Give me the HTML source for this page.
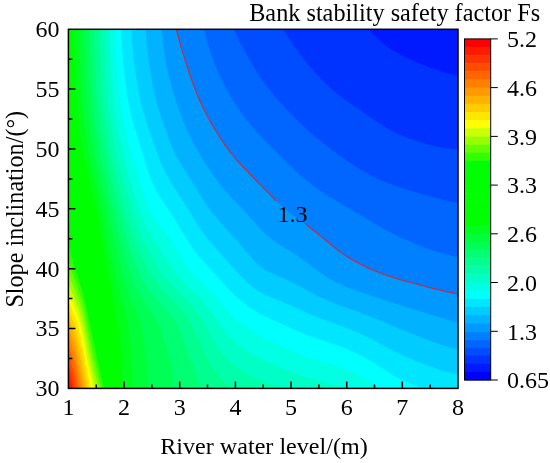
<!DOCTYPE html>
<html lang="en"><head><meta charset="utf-8"><title>Bank stability safety factor Fs</title>
<style>html,body{margin:0;padding:0;background:#fff}body{width:550px;height:463px;overflow:hidden;position:relative}</style>
</head><body>
<svg width="550" height="463" viewBox="0 0 550 463" style="display:block;position:absolute;left:0;top:0">
<rect width="550" height="463" fill="#fff"/>
<g shape-rendering="geometricPrecision">
<path d="M68.4,388.4L71.2,388.4L74.0,388.4L76.7,388.4L79.5,388.4L82.3,388.4L85.1,388.4L87.9,388.4L90.7,388.4L93.4,388.4L96.2,388.4L99.0,388.4L101.8,388.4L104.6,388.4L107.4,388.4L110.1,388.4L112.9,388.4L115.7,388.4L118.5,388.4L121.3,388.4L124.1,388.4L126.8,388.4L129.6,388.4L132.4,388.4L135.2,388.4L138.0,388.4L140.8,388.4L143.5,388.4L146.3,388.4L149.1,388.4L151.9,388.4L154.7,388.4L157.5,388.4L160.2,388.4L163.0,388.4L165.8,388.4L168.6,388.4L171.4,388.4L174.1,388.4L176.9,388.4L179.7,388.4L182.5,388.4L185.3,388.4L188.1,388.4L190.8,388.4L193.6,388.4L196.4,388.4L199.2,388.4L202.0,388.4L204.8,388.4L207.5,388.4L210.3,388.4L213.1,388.4L215.9,388.4L218.7,388.4L221.5,388.4L224.2,388.4L227.0,388.4L229.8,388.4L232.6,388.4L235.4,388.4L238.2,388.4L240.9,388.4L243.7,388.4L246.5,388.4L249.3,388.4L252.1,388.4L254.9,388.4L257.6,388.4L260.4,388.4L263.2,388.4L266.0,388.4L268.8,388.4L271.5,388.4L274.3,388.4L277.1,388.4L279.9,388.4L282.7,388.4L285.5,388.4L288.2,388.4L291.0,388.4L293.8,388.4L296.6,388.4L299.4,388.4L302.2,388.4L304.9,388.4L307.7,388.4L310.5,388.4L313.3,388.4L316.1,388.4L318.9,388.4L321.6,388.4L324.4,388.4L327.2,388.4L330.0,388.4L332.8,388.4L335.6,388.4L338.3,388.4L341.1,388.4L343.9,388.4L346.7,388.4L349.5,388.4L352.3,388.4L355.0,388.4L357.8,388.4L360.6,388.4L363.4,388.4L366.2,388.4L368.9,388.4L371.7,388.4L374.5,388.4L377.3,388.4L380.1,388.4L382.9,388.4L385.6,388.4L388.4,388.4L391.2,388.4L394.0,388.4L396.8,388.4L399.6,388.4L402.3,388.4L405.1,388.4L407.9,388.4L410.7,388.4L413.5,388.4L416.3,388.4L419.0,388.4L421.8,388.4L424.6,388.4L427.4,388.4L430.2,388.4L433.0,388.4L435.7,388.4L438.5,388.4L441.3,388.4L444.1,388.4L446.9,388.4L449.7,388.4L452.4,388.4L455.2,388.4L458.0,388.4L458.0,382.4L458.0,376.4L458.0,370.4L458.0,364.5L458.0,358.5L458.0,352.5L458.0,346.5L458.0,340.5L458.0,334.5L458.0,328.5L458.0,322.6L458.0,316.6L458.0,310.6L458.0,304.6L458.0,298.6L458.0,292.6L458.0,286.7L458.0,280.7L458.0,274.7L458.0,268.7L458.0,262.7L458.0,256.7L458.0,250.7L458.0,244.8L458.0,238.8L458.0,232.8L458.0,226.8L458.0,220.8L458.0,214.8L458.0,208.8L458.0,202.9L458.0,196.9L458.0,190.9L458.0,184.9L458.0,178.9L458.0,172.9L458.0,167.0L458.0,161.0L458.0,155.0L458.0,149.0L458.0,143.0L458.0,137.0L458.0,131.0L458.0,125.1L458.0,119.1L458.0,113.1L458.0,107.1L458.0,101.1L458.0,95.1L458.0,89.1L458.0,83.2L458.0,77.2L458.0,71.2L458.0,65.2L458.0,59.2L458.0,53.2L458.0,47.3L458.0,41.3L458.0,35.3L458.0,29.3L455.2,29.3L452.4,29.3L449.7,29.3L446.9,29.3L444.1,29.3L441.3,29.3L438.5,29.3L435.7,29.3L433.0,29.3L430.2,29.3L427.4,29.3L424.6,29.3L421.8,29.3L419.0,29.3L416.3,29.3L413.5,29.3L410.7,29.3L407.9,29.3L405.1,29.3L402.3,29.3L399.6,29.3L396.8,29.3L394.0,29.3L391.2,29.3L388.4,29.3L385.6,29.3L382.9,29.3L380.1,29.3L377.3,29.3L374.5,29.3L371.7,29.3L368.9,29.3L366.2,29.3L363.4,29.3L360.6,29.3L357.8,29.3L355.0,29.3L352.3,29.3L349.5,29.3L346.7,29.3L343.9,29.3L341.1,29.3L338.3,29.3L335.6,29.3L332.8,29.3L330.0,29.3L327.2,29.3L324.4,29.3L321.6,29.3L318.9,29.3L316.1,29.3L313.3,29.3L310.5,29.3L307.7,29.3L304.9,29.3L302.2,29.3L299.4,29.3L296.6,29.3L293.8,29.3L291.0,29.3L288.2,29.3L285.5,29.3L282.7,29.3L279.9,29.3L277.1,29.3L274.3,29.3L271.5,29.3L268.8,29.3L266.0,29.3L263.2,29.3L260.4,29.3L257.6,29.3L254.9,29.3L252.1,29.3L249.3,29.3L246.5,29.3L243.7,29.3L240.9,29.3L238.2,29.3L235.4,29.3L232.6,29.3L229.8,29.3L227.0,29.3L224.2,29.3L221.5,29.3L218.7,29.3L215.9,29.3L213.1,29.3L210.3,29.3L207.5,29.3L204.8,29.3L202.0,29.3L199.2,29.3L196.4,29.3L193.6,29.3L190.8,29.3L188.1,29.3L185.3,29.3L182.5,29.3L179.7,29.3L176.9,29.3L174.1,29.3L171.4,29.3L168.6,29.3L165.8,29.3L163.0,29.3L160.2,29.3L157.5,29.3L154.7,29.3L151.9,29.3L149.1,29.3L146.3,29.3L143.5,29.3L140.8,29.3L138.0,29.3L135.2,29.3L132.4,29.3L129.6,29.3L126.8,29.3L124.1,29.3L121.3,29.3L118.5,29.3L115.7,29.3L112.9,29.3L110.1,29.3L107.4,29.3L104.6,29.3L101.8,29.3L99.0,29.3L96.2,29.3L93.4,29.3L90.7,29.3L87.9,29.3L85.1,29.3L82.3,29.3L79.5,29.3L76.7,29.3L74.0,29.3L71.2,29.3L68.4,29.3L68.4,35.3L68.4,41.3L68.4,47.3L68.4,53.2L68.4,59.2L68.4,65.2L68.4,71.2L68.4,77.2L68.4,83.2L68.4,89.1L68.4,95.1L68.4,101.1L68.4,107.1L68.4,113.1L68.4,119.1L68.4,125.1L68.4,131.0L68.4,137.0L68.4,143.0L68.4,149.0L68.4,155.0L68.4,161.0L68.4,167.0L68.4,172.9L68.4,178.9L68.4,184.9L68.4,190.9L68.4,196.9L68.4,202.9L68.4,208.8L68.4,214.8L68.4,220.8L68.4,226.8L68.4,232.8L68.4,238.8L68.4,244.8L68.4,250.7L68.4,256.7L68.4,262.7L68.4,268.7L68.4,274.7L68.4,280.7L68.4,286.7L68.4,292.6L68.4,298.6L68.4,304.6L68.4,310.6L68.4,316.6L68.4,322.6L68.4,328.5L68.4,334.5L68.4,340.5L68.4,346.5L68.4,352.5L68.4,358.5L68.4,364.5L68.4,370.4L68.4,376.4L68.4,382.4Z" fill="#0000ff"/>
<path d="M68.4,388.4L71.2,388.4L74.0,388.4L76.7,388.4L79.5,388.4L82.3,388.4L85.1,388.4L87.9,388.4L90.7,388.4L93.4,388.4L96.2,388.4L99.0,388.4L101.8,388.4L104.6,388.4L107.4,388.4L110.1,388.4L112.9,388.4L115.7,388.4L118.5,388.4L121.3,388.4L124.1,388.4L126.8,388.4L129.6,388.4L132.4,388.4L135.2,388.4L138.0,388.4L140.8,388.4L143.5,388.4L146.3,388.4L149.1,388.4L151.9,388.4L154.7,388.4L157.5,388.4L160.2,388.4L163.0,388.4L165.8,388.4L168.6,388.4L171.4,388.4L174.1,388.4L176.9,388.4L179.7,388.4L182.5,388.4L185.3,388.4L188.1,388.4L190.8,388.4L193.6,388.4L196.4,388.4L199.2,388.4L202.0,388.4L204.8,388.4L207.5,388.4L210.3,388.4L213.1,388.4L215.9,388.4L218.7,388.4L221.5,388.4L224.2,388.4L227.0,388.4L229.8,388.4L232.6,388.4L235.4,388.4L238.2,388.4L240.9,388.4L243.7,388.4L246.5,388.4L249.3,388.4L252.1,388.4L254.9,388.4L257.6,388.4L260.4,388.4L263.2,388.4L266.0,388.4L268.8,388.4L271.5,388.4L274.3,388.4L277.1,388.4L279.9,388.4L282.7,388.4L285.5,388.4L288.2,388.4L291.0,388.4L293.8,388.4L296.6,388.4L299.4,388.4L302.2,388.4L304.9,388.4L307.7,388.4L310.5,388.4L313.3,388.4L316.1,388.4L318.9,388.4L321.6,388.4L324.4,388.4L327.2,388.4L330.0,388.4L332.8,388.4L335.6,388.4L338.3,388.4L341.1,388.4L343.9,388.4L346.7,388.4L349.5,388.4L352.3,388.4L355.0,388.4L357.8,388.4L360.6,388.4L363.4,388.4L366.2,388.4L368.9,388.4L371.7,388.4L374.5,388.4L377.3,388.4L380.1,388.4L382.9,388.4L385.6,388.4L388.4,388.4L391.2,388.4L394.0,388.4L396.8,388.4L399.6,388.4L402.3,388.4L405.1,388.4L407.9,388.4L410.7,388.4L413.5,388.4L416.3,388.4L419.0,388.4L421.8,388.4L424.6,388.4L427.4,388.4L430.2,388.4L433.0,388.4L435.7,388.4L438.5,388.4L441.3,388.4L444.1,388.4L446.9,388.4L449.7,388.4L452.4,388.4L455.2,388.4L458.0,388.4L458.0,382.4L458.0,376.4L458.0,370.4L458.0,364.5L458.0,358.5L458.0,352.5L458.0,346.5L458.0,340.5L458.0,334.5L458.0,328.5L458.0,322.6L458.0,316.6L458.0,310.6L458.0,304.6L458.0,298.6L458.0,292.6L458.0,286.7L458.0,280.7L458.0,274.7L458.0,268.7L458.0,262.7L458.0,256.7L458.0,250.7L458.0,244.8L458.0,238.8L458.0,232.8L458.0,226.8L458.0,220.8L458.0,214.8L458.0,208.8L458.0,202.9L458.0,196.9L458.0,190.9L458.0,184.9L458.0,178.9L458.0,172.9L458.0,167.0L458.0,161.0L458.0,155.0L458.0,149.0L458.0,143.0L458.0,137.0L458.0,131.0L458.0,125.1L458.0,119.1L458.0,113.1L458.0,107.1L458.0,101.1L458.0,95.1L458.0,89.1L458.0,83.2L458.0,77.2L458.0,71.2L458.0,65.2L458.0,59.2L458.0,53.2L458.0,47.3L458.0,41.3L458.0,35.3L458.0,29.3L455.2,29.3L452.4,29.3L449.7,29.3L446.9,29.3L444.1,29.3L441.3,29.3L438.5,29.3L435.7,29.3L433.0,29.3L430.2,29.3L427.4,29.3L424.6,29.3L421.8,29.3L419.0,29.3L416.3,29.3L413.5,29.3L410.7,29.3L407.9,29.3L405.1,29.3L402.3,29.3L399.6,29.3L396.8,29.3L394.0,29.3L391.2,29.3L388.4,29.3L385.6,29.3L382.9,29.3L380.1,29.3L377.3,29.3L374.5,29.3L371.7,29.3L368.9,29.3L366.2,29.3L363.4,29.3L360.6,29.3L357.8,29.3L355.0,29.3L352.3,29.3L349.5,29.3L346.7,29.3L343.9,29.3L341.1,29.3L338.3,29.3L335.6,29.3L332.8,29.3L330.0,29.3L327.2,29.3L324.4,29.3L321.6,29.3L318.9,29.3L316.1,29.3L313.3,29.3L310.5,29.3L307.7,29.3L304.9,29.3L302.2,29.3L299.4,29.3L296.6,29.3L293.8,29.3L291.0,29.3L288.2,29.3L285.5,29.3L282.7,29.3L279.9,29.3L277.1,29.3L274.3,29.3L271.5,29.3L268.8,29.3L266.0,29.3L263.2,29.3L260.4,29.3L257.6,29.3L254.9,29.3L252.1,29.3L249.3,29.3L246.5,29.3L243.7,29.3L240.9,29.3L238.2,29.3L235.4,29.3L232.6,29.3L229.8,29.3L227.0,29.3L224.2,29.3L221.5,29.3L218.7,29.3L215.9,29.3L213.1,29.3L210.3,29.3L207.5,29.3L204.8,29.3L202.0,29.3L199.2,29.3L196.4,29.3L193.6,29.3L190.8,29.3L188.1,29.3L185.3,29.3L182.5,29.3L179.7,29.3L176.9,29.3L174.1,29.3L171.4,29.3L168.6,29.3L165.8,29.3L163.0,29.3L160.2,29.3L157.5,29.3L154.7,29.3L151.9,29.3L149.1,29.3L146.3,29.3L143.5,29.3L140.8,29.3L138.0,29.3L135.2,29.3L132.4,29.3L129.6,29.3L126.8,29.3L124.1,29.3L121.3,29.3L118.5,29.3L115.7,29.3L112.9,29.3L110.1,29.3L107.4,29.3L104.6,29.3L101.8,29.3L99.0,29.3L96.2,29.3L93.4,29.3L90.7,29.3L87.9,29.3L85.1,29.3L82.3,29.3L79.5,29.3L76.7,29.3L74.0,29.3L71.2,29.3L68.4,29.3L68.4,35.3L68.4,41.3L68.4,47.3L68.4,53.2L68.4,59.2L68.4,65.2L68.4,71.2L68.4,77.2L68.4,83.2L68.4,89.1L68.4,95.1L68.4,101.1L68.4,107.1L68.4,113.1L68.4,119.1L68.4,125.1L68.4,131.0L68.4,137.0L68.4,143.0L68.4,149.0L68.4,155.0L68.4,161.0L68.4,167.0L68.4,172.9L68.4,178.9L68.4,184.9L68.4,190.9L68.4,196.9L68.4,202.9L68.4,208.8L68.4,214.8L68.4,220.8L68.4,226.8L68.4,232.8L68.4,238.8L68.4,244.8L68.4,250.7L68.4,256.7L68.4,262.7L68.4,268.7L68.4,274.7L68.4,280.7L68.4,286.7L68.4,292.6L68.4,298.6L68.4,304.6L68.4,310.6L68.4,316.6L68.4,322.6L68.4,328.5L68.4,334.5L68.4,340.5L68.4,346.5L68.4,352.5L68.4,358.5L68.4,364.5L68.4,370.4L68.4,376.4L68.4,382.4Z" fill="#001aff"/>
<path d="M68.4,388.4L71.2,388.4L74.0,388.4L76.7,388.4L79.5,388.4L82.3,388.4L85.1,388.4L87.9,388.4L90.7,388.4L93.4,388.4L96.2,388.4L99.0,388.4L101.8,388.4L104.6,388.4L107.4,388.4L110.1,388.4L112.9,388.4L115.7,388.4L118.5,388.4L121.3,388.4L124.1,388.4L126.8,388.4L129.6,388.4L132.4,388.4L135.2,388.4L138.0,388.4L140.8,388.4L143.5,388.4L146.3,388.4L149.1,388.4L151.9,388.4L154.7,388.4L157.5,388.4L160.2,388.4L163.0,388.4L165.8,388.4L168.6,388.4L171.4,388.4L174.1,388.4L176.9,388.4L179.7,388.4L182.5,388.4L185.3,388.4L188.1,388.4L190.8,388.4L193.6,388.4L196.4,388.4L199.2,388.4L202.0,388.4L204.8,388.4L207.5,388.4L210.3,388.4L213.1,388.4L215.9,388.4L218.7,388.4L221.5,388.4L224.2,388.4L227.0,388.4L229.8,388.4L232.6,388.4L235.4,388.4L238.2,388.4L240.9,388.4L243.7,388.4L246.5,388.4L249.3,388.4L252.1,388.4L254.9,388.4L257.6,388.4L260.4,388.4L263.2,388.4L266.0,388.4L268.8,388.4L271.5,388.4L274.3,388.4L277.1,388.4L279.9,388.4L282.7,388.4L285.5,388.4L288.2,388.4L291.0,388.4L293.8,388.4L296.6,388.4L299.4,388.4L302.2,388.4L304.9,388.4L307.7,388.4L310.5,388.4L313.3,388.4L316.1,388.4L318.9,388.4L321.6,388.4L324.4,388.4L327.2,388.4L330.0,388.4L332.8,388.4L335.6,388.4L338.3,388.4L341.1,388.4L343.9,388.4L346.7,388.4L349.5,388.4L352.3,388.4L355.0,388.4L357.8,388.4L360.6,388.4L363.4,388.4L366.2,388.4L368.9,388.4L371.7,388.4L374.5,388.4L377.3,388.4L380.1,388.4L382.9,388.4L385.6,388.4L388.4,388.4L391.2,388.4L394.0,388.4L396.8,388.4L399.6,388.4L402.3,388.4L405.1,388.4L407.9,388.4L410.7,388.4L413.5,388.4L416.3,388.4L419.0,388.4L421.8,388.4L424.6,388.4L427.4,388.4L430.2,388.4L433.0,388.4L435.7,388.4L438.5,388.4L441.3,388.4L444.1,388.4L446.9,388.4L449.7,388.4L452.4,388.4L455.2,388.4L458.0,388.4L458.0,382.4L458.0,376.4L458.0,370.4L458.0,364.5L458.0,358.5L458.0,352.5L458.0,346.5L458.0,340.5L458.0,334.5L458.0,328.5L458.0,322.6L458.0,316.6L458.0,310.6L458.0,304.6L458.0,298.6L458.0,292.6L458.0,286.7L458.0,280.7L458.0,274.7L458.0,268.7L458.0,262.7L458.0,256.7L458.0,250.7L458.0,244.8L458.0,238.8L458.0,232.8L458.0,226.8L458.0,220.8L458.0,214.8L458.0,208.8L458.0,202.9L458.0,196.9L458.0,190.9L458.0,184.9L458.0,178.9L458.0,172.9L458.0,167.0L458.0,161.0L458.0,155.0L458.0,149.0L458.0,143.0L458.0,137.0L458.0,131.0L458.0,125.1L458.0,119.1L458.0,113.1L458.0,107.1L458.0,101.1L458.0,95.1L458.0,89.1L458.0,83.2L458.0,77.2L458.0,75.9L455.2,75.2L452.4,74.6L449.7,73.8L446.9,73.1L444.1,72.3L441.3,71.4L440.6,71.2L438.5,70.5L435.7,69.6L433.0,68.7L430.2,67.7L427.4,66.6L424.6,65.6L423.7,65.2L421.8,64.5L419.0,63.3L416.3,62.1L413.5,60.9L410.7,59.7L409.7,59.2L407.9,58.4L405.1,57.1L402.3,55.7L399.6,54.3L397.6,53.2L396.8,52.8L394.0,51.2L391.2,49.4L388.4,47.5L388.1,47.3L385.6,45.4L382.9,43.2L380.6,41.3L380.1,40.8L377.3,38.3L374.5,35.6L374.2,35.3L371.7,32.7L368.9,29.6L368.7,29.3L366.2,29.3L363.4,29.3L360.6,29.3L357.8,29.3L355.0,29.3L352.3,29.3L349.5,29.3L346.7,29.3L343.9,29.3L341.1,29.3L338.3,29.3L335.6,29.3L332.8,29.3L330.0,29.3L327.2,29.3L324.4,29.3L321.6,29.3L318.9,29.3L316.1,29.3L313.3,29.3L310.5,29.3L307.7,29.3L304.9,29.3L302.2,29.3L299.4,29.3L296.6,29.3L293.8,29.3L291.0,29.3L288.2,29.3L285.5,29.3L282.7,29.3L279.9,29.3L277.1,29.3L274.3,29.3L271.5,29.3L268.8,29.3L266.0,29.3L263.2,29.3L260.4,29.3L257.6,29.3L254.9,29.3L252.1,29.3L249.3,29.3L246.5,29.3L243.7,29.3L240.9,29.3L238.2,29.3L235.4,29.3L232.6,29.3L229.8,29.3L227.0,29.3L224.2,29.3L221.5,29.3L218.7,29.3L215.9,29.3L213.1,29.3L210.3,29.3L207.5,29.3L204.8,29.3L202.0,29.3L199.2,29.3L196.4,29.3L193.6,29.3L190.8,29.3L188.1,29.3L185.3,29.3L182.5,29.3L179.7,29.3L176.9,29.3L174.1,29.3L171.4,29.3L168.6,29.3L165.8,29.3L163.0,29.3L160.2,29.3L157.5,29.3L154.7,29.3L151.9,29.3L149.1,29.3L146.3,29.3L143.5,29.3L140.8,29.3L138.0,29.3L135.2,29.3L132.4,29.3L129.6,29.3L126.8,29.3L124.1,29.3L121.3,29.3L118.5,29.3L115.7,29.3L112.9,29.3L110.1,29.3L107.4,29.3L104.6,29.3L101.8,29.3L99.0,29.3L96.2,29.3L93.4,29.3L90.7,29.3L87.9,29.3L85.1,29.3L82.3,29.3L79.5,29.3L76.7,29.3L74.0,29.3L71.2,29.3L68.4,29.3L68.4,35.3L68.4,41.3L68.4,47.3L68.4,53.2L68.4,59.2L68.4,65.2L68.4,71.2L68.4,77.2L68.4,83.2L68.4,89.1L68.4,95.1L68.4,101.1L68.4,107.1L68.4,113.1L68.4,119.1L68.4,125.1L68.4,131.0L68.4,137.0L68.4,143.0L68.4,149.0L68.4,155.0L68.4,161.0L68.4,167.0L68.4,172.9L68.4,178.9L68.4,184.9L68.4,190.9L68.4,196.9L68.4,202.9L68.4,208.8L68.4,214.8L68.4,220.8L68.4,226.8L68.4,232.8L68.4,238.8L68.4,244.8L68.4,250.7L68.4,256.7L68.4,262.7L68.4,268.7L68.4,274.7L68.4,280.7L68.4,286.7L68.4,292.6L68.4,298.6L68.4,304.6L68.4,310.6L68.4,316.6L68.4,322.6L68.4,328.5L68.4,334.5L68.4,340.5L68.4,346.5L68.4,352.5L68.4,358.5L68.4,364.5L68.4,370.4L68.4,376.4L68.4,382.4Z" fill="#0033ff"/>
<path d="M68.4,388.4L71.2,388.4L74.0,388.4L76.7,388.4L79.5,388.4L82.3,388.4L85.1,388.4L87.9,388.4L90.7,388.4L93.4,388.4L96.2,388.4L99.0,388.4L101.8,388.4L104.6,388.4L107.4,388.4L110.1,388.4L112.9,388.4L115.7,388.4L118.5,388.4L121.3,388.4L124.1,388.4L126.8,388.4L129.6,388.4L132.4,388.4L135.2,388.4L138.0,388.4L140.8,388.4L143.5,388.4L146.3,388.4L149.1,388.4L151.9,388.4L154.7,388.4L157.5,388.4L160.2,388.4L163.0,388.4L165.8,388.4L168.6,388.4L171.4,388.4L174.1,388.4L176.9,388.4L179.7,388.4L182.5,388.4L185.3,388.4L188.1,388.4L190.8,388.4L193.6,388.4L196.4,388.4L199.2,388.4L202.0,388.4L204.8,388.4L207.5,388.4L210.3,388.4L213.1,388.4L215.9,388.4L218.7,388.4L221.5,388.4L224.2,388.4L227.0,388.4L229.8,388.4L232.6,388.4L235.4,388.4L238.2,388.4L240.9,388.4L243.7,388.4L246.5,388.4L249.3,388.4L252.1,388.4L254.9,388.4L257.6,388.4L260.4,388.4L263.2,388.4L266.0,388.4L268.8,388.4L271.5,388.4L274.3,388.4L277.1,388.4L279.9,388.4L282.7,388.4L285.5,388.4L288.2,388.4L291.0,388.4L293.8,388.4L296.6,388.4L299.4,388.4L302.2,388.4L304.9,388.4L307.7,388.4L310.5,388.4L313.3,388.4L316.1,388.4L318.9,388.4L321.6,388.4L324.4,388.4L327.2,388.4L330.0,388.4L332.8,388.4L335.6,388.4L338.3,388.4L341.1,388.4L343.9,388.4L346.7,388.4L349.5,388.4L352.3,388.4L355.0,388.4L357.8,388.4L360.6,388.4L363.4,388.4L366.2,388.4L368.9,388.4L371.7,388.4L374.5,388.4L377.3,388.4L380.1,388.4L382.9,388.4L385.6,388.4L388.4,388.4L391.2,388.4L394.0,388.4L396.8,388.4L399.6,388.4L402.3,388.4L405.1,388.4L407.9,388.4L410.7,388.4L413.5,388.4L416.3,388.4L419.0,388.4L421.8,388.4L424.6,388.4L427.4,388.4L430.2,388.4L433.0,388.4L435.7,388.4L438.5,388.4L441.3,388.4L444.1,388.4L446.9,388.4L449.7,388.4L452.4,388.4L455.2,388.4L458.0,388.4L458.0,382.4L458.0,376.4L458.0,370.4L458.0,364.5L458.0,358.5L458.0,352.5L458.0,346.5L458.0,340.5L458.0,334.5L458.0,328.5L458.0,322.6L458.0,316.6L458.0,310.6L458.0,304.6L458.0,298.6L458.0,292.6L458.0,286.7L458.0,280.7L458.0,274.7L458.0,268.7L458.0,262.7L458.0,256.7L458.0,250.7L458.0,244.8L458.0,238.8L458.0,232.8L458.0,226.8L458.0,220.8L458.0,214.8L458.0,208.8L458.0,202.9L458.0,196.9L458.0,190.9L458.0,184.9L458.0,178.9L458.0,172.9L458.0,167.0L458.0,161.0L458.0,155.0L458.0,149.0L458.0,149.0L455.2,148.9L452.4,148.8L449.7,148.6L446.9,148.3L444.1,147.9L441.3,147.4L438.5,146.9L435.7,146.3L433.0,145.7L430.2,145.0L427.4,144.2L424.6,143.5L423.0,143.0L421.8,142.6L419.0,141.7L416.3,140.8L413.5,139.8L410.7,138.9L407.9,137.9L405.5,137.0L405.1,136.9L402.3,135.8L399.6,134.7L396.8,133.4L394.0,132.0L392.1,131.0L391.2,130.5L388.4,128.9L385.6,127.3L382.9,125.6L382.1,125.1L380.1,123.8L377.3,121.9L374.5,120.1L373.0,119.1L371.7,118.2L368.9,116.3L366.2,114.4L364.3,113.1L363.4,112.5L360.6,110.5L357.8,108.6L355.7,107.1L355.0,106.7L352.3,104.7L349.5,102.7L347.2,101.1L346.7,100.8L343.9,98.7L341.1,96.7L339.1,95.1L338.3,94.6L335.6,92.3L332.8,90.1L331.7,89.1L330.0,87.7L327.2,85.1L325.1,83.2L324.4,82.5L321.6,79.6L319.3,77.2L318.9,76.7L316.1,73.7L313.9,71.2L313.3,70.5L310.5,67.2L308.8,65.2L307.7,63.9L304.9,60.4L304.0,59.2L302.2,56.8L299.5,53.2L299.4,53.1L296.6,49.3L295.1,47.3L293.8,45.4L291.0,41.4L290.9,41.3L288.2,37.2L287.0,35.3L285.5,32.9L283.1,29.3L282.7,29.3L279.9,29.3L277.1,29.3L274.3,29.3L271.5,29.3L268.8,29.3L266.0,29.3L263.2,29.3L260.4,29.3L257.6,29.3L254.9,29.3L252.1,29.3L249.3,29.3L246.5,29.3L243.7,29.3L240.9,29.3L238.2,29.3L235.4,29.3L232.6,29.3L229.8,29.3L227.0,29.3L224.2,29.3L221.5,29.3L218.7,29.3L215.9,29.3L213.1,29.3L210.3,29.3L207.5,29.3L204.8,29.3L202.0,29.3L199.2,29.3L196.4,29.3L193.6,29.3L190.8,29.3L188.1,29.3L185.3,29.3L182.5,29.3L179.7,29.3L176.9,29.3L174.1,29.3L171.4,29.3L168.6,29.3L165.8,29.3L163.0,29.3L160.2,29.3L157.5,29.3L154.7,29.3L151.9,29.3L149.1,29.3L146.3,29.3L143.5,29.3L140.8,29.3L138.0,29.3L135.2,29.3L132.4,29.3L129.6,29.3L126.8,29.3L124.1,29.3L121.3,29.3L118.5,29.3L115.7,29.3L112.9,29.3L110.1,29.3L107.4,29.3L104.6,29.3L101.8,29.3L99.0,29.3L96.2,29.3L93.4,29.3L90.7,29.3L87.9,29.3L85.1,29.3L82.3,29.3L79.5,29.3L76.7,29.3L74.0,29.3L71.2,29.3L68.4,29.3L68.4,35.3L68.4,41.3L68.4,47.3L68.4,53.2L68.4,59.2L68.4,65.2L68.4,71.2L68.4,77.2L68.4,83.2L68.4,89.1L68.4,95.1L68.4,101.1L68.4,107.1L68.4,113.1L68.4,119.1L68.4,125.1L68.4,131.0L68.4,137.0L68.4,143.0L68.4,149.0L68.4,155.0L68.4,161.0L68.4,167.0L68.4,172.9L68.4,178.9L68.4,184.9L68.4,190.9L68.4,196.9L68.4,202.9L68.4,208.8L68.4,214.8L68.4,220.8L68.4,226.8L68.4,232.8L68.4,238.8L68.4,244.8L68.4,250.7L68.4,256.7L68.4,262.7L68.4,268.7L68.4,274.7L68.4,280.7L68.4,286.7L68.4,292.6L68.4,298.6L68.4,304.6L68.4,310.6L68.4,316.6L68.4,322.6L68.4,328.5L68.4,334.5L68.4,340.5L68.4,346.5L68.4,352.5L68.4,358.5L68.4,364.5L68.4,370.4L68.4,376.4L68.4,382.4Z" fill="#004cff"/>
<path d="M68.4,388.4L71.2,388.4L74.0,388.4L76.7,388.4L79.5,388.4L82.3,388.4L85.1,388.4L87.9,388.4L90.7,388.4L93.4,388.4L96.2,388.4L99.0,388.4L101.8,388.4L104.6,388.4L107.4,388.4L110.1,388.4L112.9,388.4L115.7,388.4L118.5,388.4L121.3,388.4L124.1,388.4L126.8,388.4L129.6,388.4L132.4,388.4L135.2,388.4L138.0,388.4L140.8,388.4L143.5,388.4L146.3,388.4L149.1,388.4L151.9,388.4L154.7,388.4L157.5,388.4L160.2,388.4L163.0,388.4L165.8,388.4L168.6,388.4L171.4,388.4L174.1,388.4L176.9,388.4L179.7,388.4L182.5,388.4L185.3,388.4L188.1,388.4L190.8,388.4L193.6,388.4L196.4,388.4L199.2,388.4L202.0,388.4L204.8,388.4L207.5,388.4L210.3,388.4L213.1,388.4L215.9,388.4L218.7,388.4L221.5,388.4L224.2,388.4L227.0,388.4L229.8,388.4L232.6,388.4L235.4,388.4L238.2,388.4L240.9,388.4L243.7,388.4L246.5,388.4L249.3,388.4L252.1,388.4L254.9,388.4L257.6,388.4L260.4,388.4L263.2,388.4L266.0,388.4L268.8,388.4L271.5,388.4L274.3,388.4L277.1,388.4L279.9,388.4L282.7,388.4L285.5,388.4L288.2,388.4L291.0,388.4L293.8,388.4L296.6,388.4L299.4,388.4L302.2,388.4L304.9,388.4L307.7,388.4L310.5,388.4L313.3,388.4L316.1,388.4L318.9,388.4L321.6,388.4L324.4,388.4L327.2,388.4L330.0,388.4L332.8,388.4L335.6,388.4L338.3,388.4L341.1,388.4L343.9,388.4L346.7,388.4L349.5,388.4L352.3,388.4L355.0,388.4L357.8,388.4L360.6,388.4L363.4,388.4L366.2,388.4L368.9,388.4L371.7,388.4L374.5,388.4L377.3,388.4L380.1,388.4L382.9,388.4L385.6,388.4L388.4,388.4L391.2,388.4L394.0,388.4L396.8,388.4L399.6,388.4L402.3,388.4L405.1,388.4L407.9,388.4L410.7,388.4L413.5,388.4L416.3,388.4L419.0,388.4L421.8,388.4L424.6,388.4L427.4,388.4L430.2,388.4L433.0,388.4L435.7,388.4L438.5,388.4L441.3,388.4L444.1,388.4L446.9,388.4L449.7,388.4L452.4,388.4L455.2,388.4L458.0,388.4L458.0,382.4L458.0,376.4L458.0,370.4L458.0,364.5L458.0,358.5L458.0,352.5L458.0,346.5L458.0,340.5L458.0,334.5L458.0,328.5L458.0,322.6L458.0,316.6L458.0,310.6L458.0,304.6L458.0,298.6L458.0,292.6L458.0,286.7L458.0,280.7L458.0,274.7L458.0,268.7L458.0,262.7L458.0,256.7L458.0,250.7L458.0,244.8L458.0,238.8L458.0,232.8L458.0,226.8L458.0,220.8L458.0,214.8L458.0,208.8L458.0,203.2L456.4,202.9L455.2,202.6L452.4,202.0L449.7,201.4L446.9,200.7L444.1,200.0L441.3,199.3L438.5,198.6L435.7,197.8L433.0,197.1L432.3,196.9L430.2,196.3L427.4,195.5L424.6,194.7L421.8,193.9L419.0,193.1L416.3,192.3L413.5,191.4L411.8,190.9L410.7,190.6L407.9,189.7L405.1,188.9L402.3,188.0L399.6,187.2L396.8,186.3L394.0,185.3L392.9,184.9L391.2,184.3L388.4,183.2L385.6,182.1L382.9,180.9L380.1,179.7L378.3,178.9L377.3,178.4L374.5,177.1L371.7,175.7L368.9,174.3L366.5,172.9L366.2,172.8L363.4,171.2L360.6,169.5L357.8,167.8L356.4,167.0L355.0,166.1L352.3,164.3L349.5,162.4L347.3,161.0L346.7,160.5L343.9,158.5L341.1,156.5L338.9,155.0L338.3,154.5L335.6,152.5L332.8,150.4L330.9,149.0L330.0,148.3L327.2,146.2L324.4,144.0L323.2,143.0L321.6,141.8L318.9,139.5L316.1,137.2L315.8,137.0L313.3,134.9L310.5,132.4L308.9,131.0L307.7,130.0L304.9,127.5L302.3,125.1L302.2,124.9L299.4,122.3L296.6,119.6L296.1,119.1L293.8,116.8L291.0,114.0L290.1,113.1L288.2,111.1L285.5,108.2L284.5,107.1L282.7,105.1L279.9,102.0L279.1,101.1L277.1,98.8L274.3,95.6L274.0,95.1L271.5,92.1L269.2,89.1L268.8,88.6L266.0,85.0L264.7,83.2L263.2,81.1L260.4,77.2L260.4,77.2L257.6,73.0L256.4,71.2L254.9,68.7L252.7,65.2L252.1,64.2L249.3,59.5L249.1,59.2L246.5,54.6L245.8,53.2L243.7,49.4L242.6,47.3L240.9,44.1L239.5,41.3L238.2,38.4L236.7,35.3L235.4,32.5L233.9,29.3L232.6,29.3L229.8,29.3L227.0,29.3L224.2,29.3L221.5,29.3L218.7,29.3L215.9,29.3L213.1,29.3L210.3,29.3L207.5,29.3L204.8,29.3L202.0,29.3L199.2,29.3L196.4,29.3L193.6,29.3L190.8,29.3L188.1,29.3L185.3,29.3L182.5,29.3L179.7,29.3L176.9,29.3L174.1,29.3L171.4,29.3L168.6,29.3L165.8,29.3L163.0,29.3L160.2,29.3L157.5,29.3L154.7,29.3L151.9,29.3L149.1,29.3L146.3,29.3L143.5,29.3L140.8,29.3L138.0,29.3L135.2,29.3L132.4,29.3L129.6,29.3L126.8,29.3L124.1,29.3L121.3,29.3L118.5,29.3L115.7,29.3L112.9,29.3L110.1,29.3L107.4,29.3L104.6,29.3L101.8,29.3L99.0,29.3L96.2,29.3L93.4,29.3L90.7,29.3L87.9,29.3L85.1,29.3L82.3,29.3L79.5,29.3L76.7,29.3L74.0,29.3L71.2,29.3L68.4,29.3L68.4,35.3L68.4,41.3L68.4,47.3L68.4,53.2L68.4,59.2L68.4,65.2L68.4,71.2L68.4,77.2L68.4,83.2L68.4,89.1L68.4,95.1L68.4,101.1L68.4,107.1L68.4,113.1L68.4,119.1L68.4,125.1L68.4,131.0L68.4,137.0L68.4,143.0L68.4,149.0L68.4,155.0L68.4,161.0L68.4,167.0L68.4,172.9L68.4,178.9L68.4,184.9L68.4,190.9L68.4,196.9L68.4,202.9L68.4,208.8L68.4,214.8L68.4,220.8L68.4,226.8L68.4,232.8L68.4,238.8L68.4,244.8L68.4,250.7L68.4,256.7L68.4,262.7L68.4,268.7L68.4,274.7L68.4,280.7L68.4,286.7L68.4,292.6L68.4,298.6L68.4,304.6L68.4,310.6L68.4,316.6L68.4,322.6L68.4,328.5L68.4,334.5L68.4,340.5L68.4,346.5L68.4,352.5L68.4,358.5L68.4,364.5L68.4,370.4L68.4,376.4L68.4,382.4Z" fill="#0066ff"/>
<path d="M68.4,388.4L71.2,388.4L74.0,388.4L76.7,388.4L79.5,388.4L82.3,388.4L85.1,388.4L87.9,388.4L90.7,388.4L93.4,388.4L96.2,388.4L99.0,388.4L101.8,388.4L104.6,388.4L107.4,388.4L110.1,388.4L112.9,388.4L115.7,388.4L118.5,388.4L121.3,388.4L124.1,388.4L126.8,388.4L129.6,388.4L132.4,388.4L135.2,388.4L138.0,388.4L140.8,388.4L143.5,388.4L146.3,388.4L149.1,388.4L151.9,388.4L154.7,388.4L157.5,388.4L160.2,388.4L163.0,388.4L165.8,388.4L168.6,388.4L171.4,388.4L174.1,388.4L176.9,388.4L179.7,388.4L182.5,388.4L185.3,388.4L188.1,388.4L190.8,388.4L193.6,388.4L196.4,388.4L199.2,388.4L202.0,388.4L204.8,388.4L207.5,388.4L210.3,388.4L213.1,388.4L215.9,388.4L218.7,388.4L221.5,388.4L224.2,388.4L227.0,388.4L229.8,388.4L232.6,388.4L235.4,388.4L238.2,388.4L240.9,388.4L243.7,388.4L246.5,388.4L249.3,388.4L252.1,388.4L254.9,388.4L257.6,388.4L260.4,388.4L263.2,388.4L266.0,388.4L268.8,388.4L271.5,388.4L274.3,388.4L277.1,388.4L279.9,388.4L282.7,388.4L285.5,388.4L288.2,388.4L291.0,388.4L293.8,388.4L296.6,388.4L299.4,388.4L302.2,388.4L304.9,388.4L307.7,388.4L310.5,388.4L313.3,388.4L316.1,388.4L318.9,388.4L321.6,388.4L324.4,388.4L327.2,388.4L330.0,388.4L332.8,388.4L335.6,388.4L338.3,388.4L341.1,388.4L343.9,388.4L346.7,388.4L349.5,388.4L352.3,388.4L355.0,388.4L357.8,388.4L360.6,388.4L363.4,388.4L366.2,388.4L368.9,388.4L371.7,388.4L374.5,388.4L377.3,388.4L380.1,388.4L382.9,388.4L385.6,388.4L388.4,388.4L391.2,388.4L394.0,388.4L396.8,388.4L399.6,388.4L402.3,388.4L405.1,388.4L407.9,388.4L410.7,388.4L413.5,388.4L416.3,388.4L419.0,388.4L421.8,388.4L424.6,388.4L427.4,388.4L430.2,388.4L433.0,388.4L435.7,388.4L438.5,388.4L441.3,388.4L444.1,388.4L446.9,388.4L449.7,388.4L452.4,388.4L455.2,388.4L458.0,388.4L458.0,382.4L458.0,376.4L458.0,370.4L458.0,364.5L458.0,358.5L458.0,352.5L458.0,346.5L458.0,340.5L458.0,334.5L458.0,328.5L458.0,322.6L458.0,316.6L458.0,310.6L458.0,304.6L458.0,298.6L458.0,292.6L458.0,286.7L458.0,280.7L458.0,274.7L458.0,268.7L458.0,262.7L458.0,257.1L456.2,256.7L455.2,256.5L452.4,255.9L449.7,255.2L446.9,254.5L444.1,253.7L441.3,252.9L438.5,252.1L435.7,251.3L434.1,250.7L433.0,250.4L430.2,249.4L427.4,248.4L424.6,247.4L421.8,246.4L419.0,245.3L417.7,244.8L416.3,244.2L413.5,243.0L410.7,241.8L407.9,240.6L405.1,239.4L403.7,238.8L402.3,238.2L399.6,236.9L396.8,235.5L394.0,234.1L391.4,232.8L391.2,232.7L388.4,231.2L385.6,229.7L382.9,228.2L380.4,226.8L380.1,226.6L377.3,225.0L374.5,223.4L371.7,221.8L370.2,220.8L368.9,220.1L366.2,218.5L363.4,216.8L360.6,215.1L360.1,214.8L357.8,213.5L355.0,211.9L352.3,210.2L349.9,208.8L349.5,208.6L346.7,207.0L343.9,205.4L341.1,203.7L339.7,202.9L338.3,202.1L335.6,200.4L332.8,198.7L330.0,197.0L329.8,196.9L327.2,195.2L324.4,193.4L321.6,191.6L320.6,190.9L318.9,189.7L316.1,187.7L313.3,185.7L312.2,184.9L310.5,183.6L307.7,181.4L304.9,179.2L304.7,178.9L302.2,176.8L299.4,174.4L297.8,172.9L296.6,171.9L293.8,169.3L291.4,167.0L291.0,166.6L288.2,163.9L285.5,161.2L285.3,161.0L282.7,158.4L279.9,155.6L279.3,155.0L277.1,152.8L274.3,150.0L273.4,149.0L271.5,147.2L268.8,144.4L267.4,143.0L266.0,141.5L263.2,138.7L261.6,137.0L260.4,135.8L257.6,132.9L256.0,131.0L254.9,129.8L252.1,126.6L250.7,125.1L249.3,123.3L246.5,119.8L245.9,119.1L243.7,116.1L241.5,113.1L240.9,112.3L238.2,108.2L237.4,107.1L235.4,104.0L233.6,101.1L232.6,99.5L230.0,95.1L229.8,94.8L227.0,89.9L226.6,89.1L224.2,84.8L223.4,83.2L221.5,79.2L220.5,77.2L218.7,73.2L217.8,71.2L215.9,66.7L215.3,65.2L213.1,59.5L213.0,59.2L210.9,53.2L210.3,51.5L209.0,47.3L207.5,42.4L207.2,41.3L205.6,35.3L204.8,31.9L204.1,29.3L202.0,29.3L199.2,29.3L196.4,29.3L193.6,29.3L190.8,29.3L188.1,29.3L185.3,29.3L182.5,29.3L179.7,29.3L176.9,29.3L174.1,29.3L171.4,29.3L168.6,29.3L165.8,29.3L163.0,29.3L160.2,29.3L157.5,29.3L154.7,29.3L151.9,29.3L149.1,29.3L146.3,29.3L143.5,29.3L140.8,29.3L138.0,29.3L135.2,29.3L132.4,29.3L129.6,29.3L126.8,29.3L124.1,29.3L121.3,29.3L118.5,29.3L115.7,29.3L112.9,29.3L110.1,29.3L107.4,29.3L104.6,29.3L101.8,29.3L99.0,29.3L96.2,29.3L93.4,29.3L90.7,29.3L87.9,29.3L85.1,29.3L82.3,29.3L79.5,29.3L76.7,29.3L74.0,29.3L71.2,29.3L68.4,29.3L68.4,35.3L68.4,41.3L68.4,47.3L68.4,53.2L68.4,59.2L68.4,65.2L68.4,71.2L68.4,77.2L68.4,83.2L68.4,89.1L68.4,95.1L68.4,101.1L68.4,107.1L68.4,113.1L68.4,119.1L68.4,125.1L68.4,131.0L68.4,137.0L68.4,143.0L68.4,149.0L68.4,155.0L68.4,161.0L68.4,167.0L68.4,172.9L68.4,178.9L68.4,184.9L68.4,190.9L68.4,196.9L68.4,202.9L68.4,208.8L68.4,214.8L68.4,220.8L68.4,226.8L68.4,232.8L68.4,238.8L68.4,244.8L68.4,250.7L68.4,256.7L68.4,262.7L68.4,268.7L68.4,274.7L68.4,280.7L68.4,286.7L68.4,292.6L68.4,298.6L68.4,304.6L68.4,310.6L68.4,316.6L68.4,322.6L68.4,328.5L68.4,334.5L68.4,340.5L68.4,346.5L68.4,352.5L68.4,358.5L68.4,364.5L68.4,370.4L68.4,376.4L68.4,382.4Z" fill="#0080ff"/>
<path d="M68.4,388.4L71.2,388.4L74.0,388.4L76.7,388.4L79.5,388.4L82.3,388.4L85.1,388.4L87.9,388.4L90.7,388.4L93.4,388.4L96.2,388.4L99.0,388.4L101.8,388.4L104.6,388.4L107.4,388.4L110.1,388.4L112.9,388.4L115.7,388.4L118.5,388.4L121.3,388.4L124.1,388.4L126.8,388.4L129.6,388.4L132.4,388.4L135.2,388.4L138.0,388.4L140.8,388.4L143.5,388.4L146.3,388.4L149.1,388.4L151.9,388.4L154.7,388.4L157.5,388.4L160.2,388.4L163.0,388.4L165.8,388.4L168.6,388.4L171.4,388.4L174.1,388.4L176.9,388.4L179.7,388.4L182.5,388.4L185.3,388.4L188.1,388.4L190.8,388.4L193.6,388.4L196.4,388.4L199.2,388.4L202.0,388.4L204.8,388.4L207.5,388.4L210.3,388.4L213.1,388.4L215.9,388.4L218.7,388.4L221.5,388.4L224.2,388.4L227.0,388.4L229.8,388.4L232.6,388.4L235.4,388.4L238.2,388.4L240.9,388.4L243.7,388.4L246.5,388.4L249.3,388.4L252.1,388.4L254.9,388.4L257.6,388.4L260.4,388.4L263.2,388.4L266.0,388.4L268.8,388.4L271.5,388.4L274.3,388.4L277.1,388.4L279.9,388.4L282.7,388.4L285.5,388.4L288.2,388.4L291.0,388.4L293.8,388.4L296.6,388.4L299.4,388.4L302.2,388.4L304.9,388.4L307.7,388.4L310.5,388.4L313.3,388.4L316.1,388.4L318.9,388.4L321.6,388.4L324.4,388.4L327.2,388.4L330.0,388.4L332.8,388.4L335.6,388.4L338.3,388.4L341.1,388.4L343.9,388.4L346.7,388.4L349.5,388.4L352.3,388.4L355.0,388.4L357.8,388.4L360.6,388.4L363.4,388.4L366.2,388.4L368.9,388.4L371.7,388.4L374.5,388.4L377.3,388.4L380.1,388.4L382.9,388.4L385.6,388.4L388.4,388.4L391.2,388.4L394.0,388.4L396.8,388.4L399.6,388.4L402.3,388.4L405.1,388.4L407.9,388.4L410.7,388.4L413.5,388.4L416.3,388.4L419.0,388.4L421.8,388.4L424.6,388.4L427.4,388.4L430.2,388.4L433.0,388.4L435.7,388.4L438.5,388.4L441.3,388.4L444.1,388.4L446.9,388.4L449.7,388.4L452.4,388.4L455.2,388.4L458.0,388.4L458.0,382.4L458.0,376.4L458.0,370.4L458.0,364.5L458.0,358.5L458.0,352.5L458.0,346.5L458.0,340.5L458.0,334.5L458.0,328.5L458.0,322.6L458.0,316.6L458.0,310.6L458.0,304.6L458.0,298.6L458.0,294.0L455.2,293.5L452.4,292.9L451.2,292.6L449.7,292.3L446.9,291.7L444.1,291.0L441.3,290.4L438.5,289.7L435.7,289.1L433.0,288.4L430.2,287.7L427.4,287.0L426.0,286.7L424.6,286.3L421.8,285.5L419.0,284.8L416.3,284.0L413.5,283.3L410.7,282.5L407.9,281.8L405.1,281.0L403.8,280.7L402.3,280.2L399.6,279.4L396.8,278.5L394.0,277.7L391.2,276.8L388.4,275.9L385.6,275.0L384.7,274.7L382.9,274.0L380.1,272.9L377.3,271.8L374.5,270.7L371.7,269.6L369.6,268.7L368.9,268.4L366.2,267.0L363.4,265.7L360.6,264.3L357.8,262.8L357.6,262.7L355.0,261.3L352.3,259.7L349.5,258.1L347.2,256.7L346.7,256.4L343.9,254.6L341.1,252.6L338.6,250.7L338.3,250.6L335.6,248.3L332.8,246.1L331.1,244.8L330.0,243.8L327.2,241.5L324.4,239.2L323.9,238.8L321.6,236.9L318.9,234.6L316.6,232.8L316.1,232.4L313.3,230.2L310.5,228.1L308.8,226.8L307.7,226.0L304.9,223.9L302.2,221.8L300.8,220.8L299.4,219.8L296.6,217.7L293.8,215.6L292.7,214.8L291.0,213.5L288.2,211.3L285.5,209.1L285.2,208.8L282.7,206.7L279.9,204.2L278.4,202.9L277.1,201.6L274.3,199.0L272.2,196.9L271.5,196.2L268.8,193.4L266.3,190.9L266.0,190.6L263.2,187.8L260.4,184.9L260.4,184.9L257.6,182.1L254.9,179.3L254.5,178.9L252.1,176.4L249.3,173.5L248.7,172.9L246.5,170.6L243.7,167.7L243.0,167.0L240.9,164.7L238.2,161.6L237.6,161.0L235.4,158.3L232.6,155.0L232.6,155.0L229.8,151.5L227.9,149.0L227.0,147.8L224.2,143.9L223.6,143.0L221.5,139.8L219.7,137.0L218.7,135.5L215.9,131.0L215.9,131.0L213.1,126.3L212.4,125.1L210.3,121.5L209.0,119.1L207.5,116.5L205.8,113.1L204.8,111.1L202.8,107.1L202.0,105.4L200.0,101.1L199.2,99.2L197.5,95.1L196.4,92.4L195.1,89.1L193.6,85.1L192.9,83.2L190.8,77.4L190.8,77.2L188.7,71.2L188.1,69.2L186.8,65.2L185.3,60.6L184.8,59.2L183.0,53.2L182.5,51.6L181.2,47.3L179.7,42.1L179.5,41.3L177.9,35.3L176.9,31.6L176.4,29.3L174.1,29.3L171.4,29.3L168.6,29.3L165.8,29.3L163.0,29.3L160.2,29.3L157.5,29.3L154.7,29.3L151.9,29.3L149.1,29.3L146.3,29.3L143.5,29.3L140.8,29.3L138.0,29.3L135.2,29.3L132.4,29.3L129.6,29.3L126.8,29.3L124.1,29.3L121.3,29.3L118.5,29.3L115.7,29.3L112.9,29.3L110.1,29.3L107.4,29.3L104.6,29.3L101.8,29.3L99.0,29.3L96.2,29.3L93.4,29.3L90.7,29.3L87.9,29.3L85.1,29.3L82.3,29.3L79.5,29.3L76.7,29.3L74.0,29.3L71.2,29.3L68.4,29.3L68.4,35.3L68.4,41.3L68.4,47.3L68.4,53.2L68.4,59.2L68.4,65.2L68.4,71.2L68.4,77.2L68.4,83.2L68.4,89.1L68.4,95.1L68.4,101.1L68.4,107.1L68.4,113.1L68.4,119.1L68.4,125.1L68.4,131.0L68.4,137.0L68.4,143.0L68.4,149.0L68.4,155.0L68.4,161.0L68.4,167.0L68.4,172.9L68.4,178.9L68.4,184.9L68.4,190.9L68.4,196.9L68.4,202.9L68.4,208.8L68.4,214.8L68.4,220.8L68.4,226.8L68.4,232.8L68.4,238.8L68.4,244.8L68.4,250.7L68.4,256.7L68.4,262.7L68.4,268.7L68.4,274.7L68.4,280.7L68.4,286.7L68.4,292.6L68.4,298.6L68.4,304.6L68.4,310.6L68.4,316.6L68.4,322.6L68.4,328.5L68.4,334.5L68.4,340.5L68.4,346.5L68.4,352.5L68.4,358.5L68.4,364.5L68.4,370.4L68.4,376.4L68.4,382.4Z" fill="#0099ff"/>
<path d="M68.4,388.4L71.2,388.4L74.0,388.4L76.7,388.4L79.5,388.4L82.3,388.4L85.1,388.4L87.9,388.4L90.7,388.4L93.4,388.4L96.2,388.4L99.0,388.4L101.8,388.4L104.6,388.4L107.4,388.4L110.1,388.4L112.9,388.4L115.7,388.4L118.5,388.4L121.3,388.4L124.1,388.4L126.8,388.4L129.6,388.4L132.4,388.4L135.2,388.4L138.0,388.4L140.8,388.4L143.5,388.4L146.3,388.4L149.1,388.4L151.9,388.4L154.7,388.4L157.5,388.4L160.2,388.4L163.0,388.4L165.8,388.4L168.6,388.4L171.4,388.4L174.1,388.4L176.9,388.4L179.7,388.4L182.5,388.4L185.3,388.4L188.1,388.4L190.8,388.4L193.6,388.4L196.4,388.4L199.2,388.4L202.0,388.4L204.8,388.4L207.5,388.4L210.3,388.4L213.1,388.4L215.9,388.4L218.7,388.4L221.5,388.4L224.2,388.4L227.0,388.4L229.8,388.4L232.6,388.4L235.4,388.4L238.2,388.4L240.9,388.4L243.7,388.4L246.5,388.4L249.3,388.4L252.1,388.4L254.9,388.4L257.6,388.4L260.4,388.4L263.2,388.4L266.0,388.4L268.8,388.4L271.5,388.4L274.3,388.4L277.1,388.4L279.9,388.4L282.7,388.4L285.5,388.4L288.2,388.4L291.0,388.4L293.8,388.4L296.6,388.4L299.4,388.4L302.2,388.4L304.9,388.4L307.7,388.4L310.5,388.4L313.3,388.4L316.1,388.4L318.9,388.4L321.6,388.4L324.4,388.4L327.2,388.4L330.0,388.4L332.8,388.4L335.6,388.4L338.3,388.4L341.1,388.4L343.9,388.4L346.7,388.4L349.5,388.4L352.3,388.4L355.0,388.4L357.8,388.4L360.6,388.4L363.4,388.4L366.2,388.4L368.9,388.4L371.7,388.4L374.5,388.4L377.3,388.4L380.1,388.4L382.9,388.4L385.6,388.4L388.4,388.4L391.2,388.4L394.0,388.4L396.8,388.4L399.6,388.4L402.3,388.4L405.1,388.4L407.9,388.4L410.7,388.4L413.5,388.4L416.3,388.4L419.0,388.4L421.8,388.4L424.6,388.4L427.4,388.4L430.2,388.4L433.0,388.4L435.7,388.4L438.5,388.4L441.3,388.4L444.1,388.4L446.9,388.4L449.7,388.4L452.4,388.4L455.2,388.4L458.0,388.4L458.0,382.4L458.0,376.4L458.0,370.4L458.0,364.5L458.0,358.5L458.0,352.5L458.0,346.5L458.0,340.5L458.0,334.5L458.0,328.5L458.0,322.6L458.0,322.5L455.2,321.7L452.4,321.0L449.7,320.2L446.9,319.4L444.1,318.6L441.3,317.7L438.5,316.9L437.5,316.6L435.7,316.1L433.0,315.2L430.2,314.4L427.4,313.5L424.6,312.6L421.8,311.8L419.0,310.9L418.0,310.6L416.3,310.0L413.5,309.2L410.7,308.3L407.9,307.5L405.1,306.6L402.3,305.7L399.6,304.9L398.7,304.6L396.8,304.0L394.0,303.1L391.2,302.2L388.4,301.3L385.6,300.4L382.9,299.5L380.2,298.6L380.1,298.6L377.3,297.7L374.5,296.7L371.7,295.8L368.9,294.9L366.2,293.9L363.4,293.0L362.4,292.6L360.6,292.0L357.8,291.0L355.0,290.0L352.3,289.0L349.5,288.0L346.7,287.0L345.9,286.7L343.9,285.8L341.1,284.6L338.3,283.3L335.6,282.0L333.1,280.7L332.8,280.5L330.0,278.9L327.2,277.2L324.4,275.4L323.3,274.7L321.6,273.5L318.9,271.5L316.1,269.5L314.9,268.7L313.3,267.5L310.5,265.3L307.7,263.3L307.0,262.7L304.9,261.2L302.2,259.1L299.4,257.2L298.7,256.7L296.6,255.2L293.8,253.4L291.0,251.6L289.7,250.7L288.2,249.8L285.5,248.2L282.7,246.5L279.9,244.8L279.9,244.8L277.1,242.9L274.3,241.0L271.5,238.9L271.3,238.8L268.8,236.7L266.0,234.2L264.5,232.8L263.2,231.5L260.4,228.7L258.7,226.8L257.6,225.7L254.9,222.6L253.2,220.8L252.1,219.5L249.3,216.5L247.8,214.8L246.5,213.5L243.7,210.5L242.2,208.8L240.9,207.6L238.2,204.6L236.5,202.9L235.4,201.7L232.6,198.8L230.8,196.9L229.8,195.8L227.0,192.7L225.5,190.9L224.2,189.5L221.5,186.1L220.5,184.9L218.7,182.6L215.9,178.9L215.9,178.9L213.1,175.0L211.7,172.9L210.3,170.9L207.7,167.0L207.5,166.6L204.8,162.1L204.0,161.0L202.0,157.6L200.4,155.0L199.2,152.9L196.9,149.0L196.4,148.2L193.6,143.2L193.5,143.0L190.8,138.0L190.4,137.0L188.1,132.3L187.5,131.0L185.3,126.0L184.9,125.1L182.5,119.1L182.5,119.1L180.3,113.1L179.7,111.5L178.2,107.1L176.9,103.3L176.2,101.1L174.3,95.1L174.1,94.7L172.4,89.1L171.4,85.6L170.7,83.2L169.1,77.2L168.6,74.9L167.7,71.2L166.5,65.2L165.8,61.4L165.4,59.2L164.5,53.2L163.6,47.3L163.0,42.1L162.9,41.3L162.3,35.3L161.8,29.3L160.2,29.3L157.5,29.3L154.7,29.3L151.9,29.3L149.1,29.3L146.3,29.3L143.5,29.3L140.8,29.3L138.0,29.3L135.2,29.3L132.4,29.3L129.6,29.3L126.8,29.3L124.1,29.3L121.3,29.3L118.5,29.3L115.7,29.3L112.9,29.3L110.1,29.3L107.4,29.3L104.6,29.3L101.8,29.3L99.0,29.3L96.2,29.3L93.4,29.3L90.7,29.3L87.9,29.3L85.1,29.3L82.3,29.3L79.5,29.3L76.7,29.3L74.0,29.3L71.2,29.3L68.4,29.3L68.4,35.3L68.4,41.3L68.4,47.3L68.4,53.2L68.4,59.2L68.4,65.2L68.4,71.2L68.4,77.2L68.4,83.2L68.4,89.1L68.4,95.1L68.4,101.1L68.4,107.1L68.4,113.1L68.4,119.1L68.4,125.1L68.4,131.0L68.4,137.0L68.4,143.0L68.4,149.0L68.4,155.0L68.4,161.0L68.4,167.0L68.4,172.9L68.4,178.9L68.4,184.9L68.4,190.9L68.4,196.9L68.4,202.9L68.4,208.8L68.4,214.8L68.4,220.8L68.4,226.8L68.4,232.8L68.4,238.8L68.4,244.8L68.4,250.7L68.4,256.7L68.4,262.7L68.4,268.7L68.4,274.7L68.4,280.7L68.4,286.7L68.4,292.6L68.4,298.6L68.4,304.6L68.4,310.6L68.4,316.6L68.4,322.6L68.4,328.5L68.4,334.5L68.4,340.5L68.4,346.5L68.4,352.5L68.4,358.5L68.4,364.5L68.4,370.4L68.4,376.4L68.4,382.4Z" fill="#00b2ff"/>
<path d="M68.4,388.4L71.2,388.4L74.0,388.4L76.7,388.4L79.5,388.4L82.3,388.4L85.1,388.4L87.9,388.4L90.7,388.4L93.4,388.4L96.2,388.4L99.0,388.4L101.8,388.4L104.6,388.4L107.4,388.4L110.1,388.4L112.9,388.4L115.7,388.4L118.5,388.4L121.3,388.4L124.1,388.4L126.8,388.4L129.6,388.4L132.4,388.4L135.2,388.4L138.0,388.4L140.8,388.4L143.5,388.4L146.3,388.4L149.1,388.4L151.9,388.4L154.7,388.4L157.5,388.4L160.2,388.4L163.0,388.4L165.8,388.4L168.6,388.4L171.4,388.4L174.1,388.4L176.9,388.4L179.7,388.4L182.5,388.4L185.3,388.4L188.1,388.4L190.8,388.4L193.6,388.4L196.4,388.4L199.2,388.4L202.0,388.4L204.8,388.4L207.5,388.4L210.3,388.4L213.1,388.4L215.9,388.4L218.7,388.4L221.5,388.4L224.2,388.4L227.0,388.4L229.8,388.4L232.6,388.4L235.4,388.4L238.2,388.4L240.9,388.4L243.7,388.4L246.5,388.4L249.3,388.4L252.1,388.4L254.9,388.4L257.6,388.4L260.4,388.4L263.2,388.4L266.0,388.4L268.8,388.4L271.5,388.4L274.3,388.4L277.1,388.4L279.9,388.4L282.7,388.4L285.5,388.4L288.2,388.4L291.0,388.4L293.8,388.4L296.6,388.4L299.4,388.4L302.2,388.4L304.9,388.4L307.7,388.4L310.5,388.4L313.3,388.4L316.1,388.4L318.9,388.4L321.6,388.4L324.4,388.4L327.2,388.4L330.0,388.4L332.8,388.4L335.6,388.4L338.3,388.4L341.1,388.4L343.9,388.4L346.7,388.4L349.5,388.4L352.3,388.4L355.0,388.4L357.8,388.4L360.6,388.4L363.4,388.4L366.2,388.4L368.9,388.4L371.7,388.4L374.5,388.4L377.3,388.4L380.1,388.4L382.9,388.4L385.6,388.4L388.4,388.4L391.2,388.4L394.0,388.4L396.8,388.4L399.6,388.4L402.3,388.4L405.1,388.4L407.9,388.4L410.7,388.4L413.5,388.4L416.3,388.4L419.0,388.4L421.8,388.4L424.6,388.4L427.4,388.4L430.2,388.4L433.0,388.4L435.7,388.4L438.5,388.4L441.3,388.4L444.1,388.4L446.9,388.4L449.7,388.4L452.4,388.4L455.2,388.4L458.0,388.4L458.0,382.4L458.0,376.4L458.0,370.4L458.0,364.5L458.0,358.5L458.0,352.5L458.0,349.5L455.2,348.8L452.4,348.0L449.7,347.2L447.3,346.5L446.9,346.4L444.1,345.5L441.3,344.6L438.5,343.7L435.7,342.7L433.0,341.7L430.2,340.7L429.7,340.5L427.4,339.7L424.6,338.6L421.8,337.6L419.0,336.5L416.3,335.4L414.0,334.5L413.5,334.3L410.7,333.2L407.9,332.1L405.1,331.0L402.3,329.9L399.6,328.7L399.1,328.5L396.8,327.6L394.0,326.4L391.2,325.2L388.4,324.0L385.6,322.8L385.1,322.6L382.9,321.6L380.1,320.5L377.3,319.3L374.5,318.2L371.7,317.1L370.5,316.6L368.9,316.0L366.2,314.9L363.4,313.9L360.6,312.8L357.8,311.8L355.0,310.8L354.5,310.6L352.3,309.8L349.5,308.8L346.7,307.8L343.9,306.8L341.1,305.8L338.3,304.8L337.8,304.6L335.6,303.7L332.8,302.6L330.0,301.5L327.2,300.3L324.4,299.1L323.5,298.6L321.6,297.8L318.9,296.4L316.1,295.0L313.3,293.6L311.4,292.6L310.5,292.2L307.7,290.7L304.9,289.1L302.2,287.6L300.4,286.7L299.4,286.1L296.6,284.6L293.8,283.1L291.0,281.7L288.8,280.7L288.2,280.4L285.5,279.1L282.7,277.9L279.9,276.8L277.1,275.7L274.7,274.7L274.3,274.5L271.5,273.2L268.8,271.8L266.0,270.2L263.6,268.7L263.2,268.4L260.4,266.2L257.6,263.8L256.5,262.7L254.9,261.0L252.1,258.0L250.9,256.7L249.3,254.9L246.5,251.7L245.7,250.7L243.7,248.4L240.9,245.1L240.6,244.8L238.2,241.9L235.4,238.8L235.4,238.8L232.6,235.7L229.9,232.8L229.8,232.7L227.0,229.6L224.5,226.8L224.2,226.6L221.5,223.5L219.1,220.8L218.7,220.4L215.9,217.1L214.0,214.8L213.1,213.8L210.3,210.2L209.3,208.8L207.5,206.4L205.2,202.9L204.8,202.2L202.0,197.7L201.5,196.9L199.2,193.1L197.9,190.9L196.4,188.5L194.2,184.9L193.6,184.0L190.8,179.6L190.4,178.9L188.1,175.3L186.5,172.9L185.3,171.0L182.7,167.0L182.5,166.6L179.7,161.9L179.2,161.0L176.9,156.9L175.9,155.0L174.1,151.2L173.1,149.0L171.4,144.9L170.6,143.0L168.6,137.9L168.3,137.0L166.1,131.0L165.8,130.3L164.0,125.1L163.0,122.3L161.9,119.1L160.2,114.0L159.9,113.1L158.1,107.1L157.5,104.8L156.4,101.1L154.9,95.1L154.7,94.1L153.6,89.1L152.5,83.2L151.9,80.0L151.4,77.2L150.3,71.2L149.4,65.2L149.1,63.4L148.5,59.2L147.7,53.2L147.0,47.3L146.5,41.3L146.3,38.9L146.1,35.3L145.8,29.3L143.5,29.3L140.8,29.3L138.0,29.3L135.2,29.3L132.4,29.3L129.6,29.3L126.8,29.3L124.1,29.3L121.3,29.3L118.5,29.3L115.7,29.3L112.9,29.3L110.1,29.3L107.4,29.3L104.6,29.3L101.8,29.3L99.0,29.3L96.2,29.3L93.4,29.3L90.7,29.3L87.9,29.3L85.1,29.3L82.3,29.3L79.5,29.3L76.7,29.3L74.0,29.3L71.2,29.3L68.4,29.3L68.4,35.3L68.4,41.3L68.4,47.3L68.4,53.2L68.4,59.2L68.4,65.2L68.4,71.2L68.4,77.2L68.4,83.2L68.4,89.1L68.4,95.1L68.4,101.1L68.4,107.1L68.4,113.1L68.4,119.1L68.4,125.1L68.4,131.0L68.4,137.0L68.4,143.0L68.4,149.0L68.4,155.0L68.4,161.0L68.4,167.0L68.4,172.9L68.4,178.9L68.4,184.9L68.4,190.9L68.4,196.9L68.4,202.9L68.4,208.8L68.4,214.8L68.4,220.8L68.4,226.8L68.4,232.8L68.4,238.8L68.4,244.8L68.4,250.7L68.4,256.7L68.4,262.7L68.4,268.7L68.4,274.7L68.4,280.7L68.4,286.7L68.4,292.6L68.4,298.6L68.4,304.6L68.4,310.6L68.4,316.6L68.4,322.6L68.4,328.5L68.4,334.5L68.4,340.5L68.4,346.5L68.4,352.5L68.4,358.5L68.4,364.5L68.4,370.4L68.4,376.4L68.4,382.4Z" fill="#00ccff"/>
<path d="M68.4,388.4L71.2,388.4L74.0,388.4L76.7,388.4L79.5,388.4L82.3,388.4L85.1,388.4L87.9,388.4L90.7,388.4L93.4,388.4L96.2,388.4L99.0,388.4L101.8,388.4L104.6,388.4L107.4,388.4L110.1,388.4L112.9,388.4L115.7,388.4L118.5,388.4L121.3,388.4L124.1,388.4L126.8,388.4L129.6,388.4L132.4,388.4L135.2,388.4L138.0,388.4L140.8,388.4L143.5,388.4L146.3,388.4L149.1,388.4L151.9,388.4L154.7,388.4L157.5,388.4L160.2,388.4L163.0,388.4L165.8,388.4L168.6,388.4L171.4,388.4L174.1,388.4L176.9,388.4L179.7,388.4L182.5,388.4L185.3,388.4L188.1,388.4L190.8,388.4L193.6,388.4L196.4,388.4L199.2,388.4L202.0,388.4L204.8,388.4L207.5,388.4L210.3,388.4L213.1,388.4L215.9,388.4L218.7,388.4L221.5,388.4L224.2,388.4L227.0,388.4L229.8,388.4L232.6,388.4L235.4,388.4L238.2,388.4L240.9,388.4L243.7,388.4L246.5,388.4L249.3,388.4L252.1,388.4L254.9,388.4L257.6,388.4L260.4,388.4L263.2,388.4L266.0,388.4L268.8,388.4L271.5,388.4L274.3,388.4L277.1,388.4L279.9,388.4L282.7,388.4L285.5,388.4L288.2,388.4L291.0,388.4L293.8,388.4L296.6,388.4L299.4,388.4L302.2,388.4L304.9,388.4L307.7,388.4L310.5,388.4L313.3,388.4L316.1,388.4L318.9,388.4L321.6,388.4L324.4,388.4L327.2,388.4L330.0,388.4L332.8,388.4L335.6,388.4L338.3,388.4L341.1,388.4L343.9,388.4L346.7,388.4L349.5,388.4L352.3,388.4L355.0,388.4L357.8,388.4L360.6,388.4L363.4,388.4L366.2,388.4L368.9,388.4L371.7,388.4L374.5,388.4L377.3,388.4L380.1,388.4L382.9,388.4L385.6,388.4L388.4,388.4L391.2,388.4L394.0,388.4L396.8,388.4L399.6,388.4L402.3,388.4L405.1,388.4L407.9,388.4L410.7,388.4L413.5,388.4L416.3,388.4L419.0,388.4L421.8,388.4L424.6,388.4L427.4,388.4L430.2,388.4L433.0,388.4L435.7,388.4L438.5,388.4L441.3,388.4L444.1,388.4L446.9,388.4L449.7,388.4L452.4,388.4L455.2,388.4L458.0,388.4L458.0,382.4L458.0,376.4L458.0,374.3L455.2,373.8L452.4,373.2L449.7,372.5L446.9,371.8L444.1,371.1L442.0,370.4L441.3,370.2L438.5,369.4L435.7,368.5L433.0,367.5L430.2,366.5L427.4,365.5L424.7,364.5L424.6,364.4L421.8,363.3L419.0,362.2L416.3,361.1L413.5,359.9L410.7,358.8L410.0,358.5L407.9,357.6L405.1,356.4L402.3,355.2L399.6,353.9L396.8,352.6L396.6,352.5L394.0,351.2L391.2,349.7L388.4,348.2L385.6,346.7L385.3,346.5L382.9,345.2L380.1,343.7L377.3,342.2L374.5,340.8L374.1,340.5L371.7,339.3L368.9,337.9L366.2,336.5L363.4,335.2L362.0,334.5L360.6,333.9L357.8,332.6L355.0,331.4L352.3,330.2L349.5,329.1L348.2,328.5L346.7,328.0L343.9,326.9L341.1,325.9L338.3,324.9L335.6,323.8L332.8,322.8L332.0,322.6L330.0,321.8L327.2,320.8L324.4,319.8L321.6,318.8L318.9,317.7L316.1,316.6L315.9,316.6L313.3,315.5L310.5,314.4L307.7,313.2L304.9,312.0L302.2,310.8L301.8,310.6L299.4,309.5L296.6,308.2L293.8,306.9L291.0,305.6L288.7,304.6L288.2,304.4L285.5,303.2L282.7,302.1L279.9,300.9L277.1,299.8L274.3,298.8L274.0,298.6L271.5,297.6L268.8,296.4L266.0,295.2L263.2,293.8L261.1,292.6L260.4,292.3L257.6,290.5L254.9,288.6L252.3,286.7L252.1,286.5L249.3,284.1L246.5,281.7L245.4,280.7L243.7,279.0L240.9,276.1L239.5,274.7L238.2,273.2L235.4,270.2L234.0,268.7L232.6,267.1L229.8,264.0L228.7,262.7L227.0,260.8L224.2,257.6L223.5,256.7L221.5,254.4L218.7,251.3L218.2,250.7L215.9,248.1L213.1,245.0L212.9,244.8L210.3,241.8L207.7,238.8L207.5,238.6L204.8,235.1L203.0,232.8L202.0,231.4L199.2,227.3L198.9,226.8L196.4,222.8L195.2,220.8L193.6,218.1L191.7,214.8L190.8,213.4L188.1,208.8L188.1,208.8L185.3,204.5L184.2,202.9L182.5,200.2L180.3,196.9L179.7,196.0L176.9,191.8L176.3,190.9L174.1,187.6L172.5,184.9L171.4,183.1L168.9,178.9L168.6,178.4L165.8,173.3L165.6,172.9L163.0,167.7L162.7,167.0L160.2,161.4L160.1,161.0L157.8,155.0L157.5,154.1L155.6,149.0L154.7,146.3L153.6,143.0L151.9,138.2L151.5,137.0L149.5,131.0L149.1,129.9L147.5,125.1L146.3,121.4L145.6,119.1L143.7,113.1L143.5,112.4L142.1,107.1L140.8,101.9L140.6,101.1L139.3,95.1L138.2,89.1L138.0,87.8L137.2,83.2L136.3,77.2L135.4,71.2L135.2,69.6L134.6,65.2L133.8,59.2L133.2,53.2L132.6,47.3L132.4,45.0L132.1,41.3L131.8,35.3L131.6,29.3L129.6,29.3L126.8,29.3L124.1,29.3L121.3,29.3L118.5,29.3L115.7,29.3L112.9,29.3L110.1,29.3L107.4,29.3L104.6,29.3L101.8,29.3L99.0,29.3L96.2,29.3L93.4,29.3L90.7,29.3L87.9,29.3L85.1,29.3L82.3,29.3L79.5,29.3L76.7,29.3L74.0,29.3L71.2,29.3L68.4,29.3L68.4,35.3L68.4,41.3L68.4,47.3L68.4,53.2L68.4,59.2L68.4,65.2L68.4,71.2L68.4,77.2L68.4,83.2L68.4,89.1L68.4,95.1L68.4,101.1L68.4,107.1L68.4,113.1L68.4,119.1L68.4,125.1L68.4,131.0L68.4,137.0L68.4,143.0L68.4,149.0L68.4,155.0L68.4,161.0L68.4,167.0L68.4,172.9L68.4,178.9L68.4,184.9L68.4,190.9L68.4,196.9L68.4,202.9L68.4,208.8L68.4,214.8L68.4,220.8L68.4,226.8L68.4,232.8L68.4,238.8L68.4,244.8L68.4,250.7L68.4,256.7L68.4,262.7L68.4,268.7L68.4,274.7L68.4,280.7L68.4,286.7L68.4,292.6L68.4,298.6L68.4,304.6L68.4,310.6L68.4,316.6L68.4,322.6L68.4,328.5L68.4,334.5L68.4,340.5L68.4,346.5L68.4,352.5L68.4,358.5L68.4,364.5L68.4,370.4L68.4,376.4L68.4,382.4Z" fill="#00e6ff"/>
<path d="M68.4,388.4L71.2,388.4L74.0,388.4L76.7,388.4L79.5,388.4L82.3,388.4L85.1,388.4L87.9,388.4L90.7,388.4L93.4,388.4L96.2,388.4L99.0,388.4L101.8,388.4L104.6,388.4L107.4,388.4L110.1,388.4L112.9,388.4L115.7,388.4L118.5,388.4L121.3,388.4L124.1,388.4L126.8,388.4L129.6,388.4L132.4,388.4L135.2,388.4L138.0,388.4L140.8,388.4L143.5,388.4L146.3,388.4L149.1,388.4L151.9,388.4L154.7,388.4L157.5,388.4L160.2,388.4L163.0,388.4L165.8,388.4L168.6,388.4L171.4,388.4L174.1,388.4L176.9,388.4L179.7,388.4L182.5,388.4L185.3,388.4L188.1,388.4L190.8,388.4L193.6,388.4L196.4,388.4L199.2,388.4L202.0,388.4L204.8,388.4L207.5,388.4L210.3,388.4L213.1,388.4L215.9,388.4L218.7,388.4L221.5,388.4L224.2,388.4L227.0,388.4L229.8,388.4L232.6,388.4L235.4,388.4L238.2,388.4L240.9,388.4L243.7,388.4L246.5,388.4L249.3,388.4L252.1,388.4L254.9,388.4L257.6,388.4L260.4,388.4L263.2,388.4L266.0,388.4L268.8,388.4L271.5,388.4L274.3,388.4L277.1,388.4L279.9,388.4L282.7,388.4L285.5,388.4L288.2,388.4L291.0,388.4L293.8,388.4L296.6,388.4L299.4,388.4L302.2,388.4L304.9,388.4L307.7,388.4L310.5,388.4L313.3,388.4L316.1,388.4L318.9,388.4L321.6,388.4L324.4,388.4L327.2,388.4L330.0,388.4L332.8,388.4L335.6,388.4L338.3,388.4L341.1,388.4L343.9,388.4L346.7,388.4L349.5,388.4L352.3,388.4L355.0,388.4L357.8,388.4L360.6,388.4L363.4,388.4L366.2,388.4L368.9,388.4L371.7,388.4L374.5,388.4L377.3,388.4L380.1,388.4L382.9,388.4L385.6,388.4L388.4,388.4L391.2,388.4L394.0,388.4L396.8,388.4L399.6,388.4L402.3,388.4L405.1,388.4L407.9,388.4L410.7,388.4L413.5,388.4L416.3,388.4L419.0,388.4L421.8,388.4L422.1,388.4L421.8,388.3L419.0,387.2L416.3,386.1L413.5,384.9L410.7,383.7L407.9,382.5L407.7,382.4L405.1,381.3L402.3,380.1L399.6,378.7L396.8,377.3L395.3,376.4L394.0,375.7L391.2,374.0L388.4,372.2L385.7,370.4L385.6,370.4L382.9,368.6L380.1,366.8L377.3,365.1L376.4,364.5L374.5,363.3L371.7,361.6L368.9,359.9L366.4,358.5L366.2,358.4L363.4,356.8L360.6,355.3L357.8,353.9L355.0,352.6L354.8,352.5L352.3,351.3L349.5,350.1L346.7,349.0L343.9,347.9L341.1,346.8L340.2,346.5L338.3,345.8L335.6,344.9L332.8,343.9L330.0,343.0L327.2,342.1L324.4,341.1L322.6,340.5L321.6,340.2L318.9,339.3L316.1,338.3L313.3,337.3L310.5,336.3L307.7,335.3L305.8,334.5L304.9,334.2L302.2,333.1L299.4,331.9L296.6,330.7L293.8,329.5L291.8,328.5L291.0,328.2L288.2,326.9L285.5,325.6L282.7,324.3L279.9,323.1L278.8,322.6L277.1,321.8L274.3,320.5L271.5,319.3L268.8,318.0L266.0,316.7L265.8,316.6L263.2,315.3L260.4,313.9L257.6,312.4L254.9,310.7L254.7,310.6L252.1,309.0L249.3,307.1L246.5,305.1L245.9,304.6L243.7,302.9L240.9,300.6L238.6,298.6L238.2,298.2L235.4,295.7L232.6,293.1L232.2,292.6L229.8,290.2L227.0,287.3L226.5,286.7L224.2,284.2L221.5,281.1L221.1,280.7L218.7,277.9L215.9,274.9L215.7,274.7L213.1,271.8L210.3,268.8L210.3,268.7L207.5,265.7L204.8,262.8L204.7,262.7L202.0,259.8L199.2,256.7L199.2,256.7L196.4,253.3L194.4,250.7L193.6,249.7L190.8,245.7L190.2,244.8L188.1,241.4L186.4,238.8L185.3,236.8L182.9,232.8L182.5,232.1L179.7,227.4L179.4,226.8L176.9,222.8L175.7,220.8L174.1,218.3L171.9,214.8L171.4,214.1L168.6,209.8L168.0,208.8L165.8,205.6L163.9,202.9L163.0,201.6L160.2,197.4L159.9,196.9L157.5,192.8L156.4,190.9L154.7,187.5L153.5,184.9L151.9,181.1L151.0,178.9L149.1,173.7L148.8,172.9L146.9,167.0L146.3,165.3L145.0,161.0L143.5,156.3L143.1,155.0L141.3,149.0L140.8,147.3L139.4,143.0L138.0,138.7L137.5,137.0L135.6,131.0L135.2,129.8L133.8,125.1L132.4,120.1L132.1,119.1L130.7,113.1L129.6,108.6L129.3,107.1L128.2,101.1L127.1,95.1L126.8,93.3L126.3,89.1L125.6,83.2L124.9,77.2L124.2,71.2L124.1,70.1L123.6,65.2L123.1,59.2L122.6,53.2L122.1,47.3L121.8,41.3L121.5,35.3L121.3,30.1L121.3,29.3L118.5,29.3L115.7,29.3L112.9,29.3L110.1,29.3L107.4,29.3L104.6,29.3L101.8,29.3L99.0,29.3L96.2,29.3L93.4,29.3L90.7,29.3L87.9,29.3L85.1,29.3L82.3,29.3L79.5,29.3L76.7,29.3L74.0,29.3L71.2,29.3L68.4,29.3L68.4,35.3L68.4,41.3L68.4,47.3L68.4,53.2L68.4,59.2L68.4,65.2L68.4,71.2L68.4,77.2L68.4,83.2L68.4,89.1L68.4,95.1L68.4,101.1L68.4,107.1L68.4,113.1L68.4,119.1L68.4,125.1L68.4,131.0L68.4,137.0L68.4,143.0L68.4,149.0L68.4,155.0L68.4,161.0L68.4,167.0L68.4,172.9L68.4,178.9L68.4,184.9L68.4,190.9L68.4,196.9L68.4,202.9L68.4,208.8L68.4,214.8L68.4,220.8L68.4,226.8L68.4,232.8L68.4,238.8L68.4,244.8L68.4,250.7L68.4,256.7L68.4,262.7L68.4,268.7L68.4,274.7L68.4,280.7L68.4,286.7L68.4,292.6L68.4,298.6L68.4,304.6L68.4,310.6L68.4,316.6L68.4,322.6L68.4,328.5L68.4,334.5L68.4,340.5L68.4,346.5L68.4,352.5L68.4,358.5L68.4,364.5L68.4,370.4L68.4,376.4L68.4,382.4Z" fill="#00ffff"/>
<path d="M68.4,388.4L71.2,388.4L74.0,388.4L76.7,388.4L79.5,388.4L82.3,388.4L85.1,388.4L87.9,388.4L90.7,388.4L93.4,388.4L96.2,388.4L99.0,388.4L101.8,388.4L104.6,388.4L107.4,388.4L110.1,388.4L112.9,388.4L115.7,388.4L118.5,388.4L121.3,388.4L124.1,388.4L126.8,388.4L129.6,388.4L132.4,388.4L135.2,388.4L138.0,388.4L140.8,388.4L143.5,388.4L146.3,388.4L149.1,388.4L151.9,388.4L154.7,388.4L157.5,388.4L160.2,388.4L163.0,388.4L165.8,388.4L168.6,388.4L171.4,388.4L174.1,388.4L176.9,388.4L179.7,388.4L182.5,388.4L185.3,388.4L188.1,388.4L190.8,388.4L193.6,388.4L196.4,388.4L199.2,388.4L202.0,388.4L204.8,388.4L207.5,388.4L210.3,388.4L213.1,388.4L215.9,388.4L218.7,388.4L221.5,388.4L224.2,388.4L227.0,388.4L229.8,388.4L232.6,388.4L235.4,388.4L238.2,388.4L240.9,388.4L243.7,388.4L246.5,388.4L249.3,388.4L252.1,388.4L254.9,388.4L257.6,388.4L260.4,388.4L263.2,388.4L266.0,388.4L268.8,388.4L271.5,388.4L274.3,388.4L277.1,388.4L279.9,388.4L282.7,388.4L285.5,388.4L288.2,388.4L291.0,388.4L293.8,388.4L296.6,388.4L299.4,388.4L302.2,388.4L304.9,388.4L307.7,388.4L310.5,388.4L313.3,388.4L316.1,388.4L318.9,388.4L321.6,388.4L324.4,388.4L327.2,388.4L330.0,388.4L332.8,388.4L335.6,388.4L338.3,388.4L341.1,388.4L343.9,388.4L346.7,388.4L349.5,388.4L352.3,388.4L355.0,388.4L357.8,388.4L360.6,388.4L363.4,388.4L366.2,388.4L368.9,388.4L371.7,388.4L374.5,388.4L377.3,388.4L378.5,388.4L377.3,387.5L374.5,385.4L371.7,383.4L370.3,382.4L368.9,381.5L366.2,379.6L363.4,377.9L361.0,376.4L360.6,376.2L357.8,374.6L355.0,373.2L352.3,371.8L349.5,370.5L349.2,370.4L346.7,369.4L343.9,368.3L341.1,367.3L338.3,366.3L335.6,365.4L332.8,364.5L332.5,364.5L330.0,363.7L327.2,362.8L324.4,362.0L321.6,361.2L318.9,360.3L316.1,359.5L313.3,358.7L312.7,358.5L310.5,357.8L307.7,356.9L304.9,356.0L302.2,355.0L299.4,354.0L296.6,352.9L295.6,352.5L293.8,351.8L291.0,350.6L288.2,349.3L285.5,348.1L282.7,346.8L282.0,346.5L279.9,345.5L277.1,344.2L274.3,342.9L271.5,341.6L269.3,340.5L268.8,340.2L266.0,338.8L263.2,337.4L260.4,335.9L257.8,334.5L257.6,334.4L254.9,332.8L252.1,331.1L249.3,329.4L248.1,328.5L246.5,327.5L243.7,325.5L240.9,323.4L239.8,322.6L238.2,321.2L235.4,318.9L232.8,316.6L232.6,316.4L229.8,313.5L227.2,310.6L227.0,310.4L224.2,307.1L222.2,304.6L221.5,303.7L218.7,300.3L217.3,298.6L215.9,297.0L213.1,293.7L212.2,292.6L210.3,290.6L207.5,287.6L206.5,286.7L204.8,284.9L202.0,282.3L200.1,280.7L199.2,279.8L196.4,277.3L193.6,274.7L193.6,274.7L190.8,271.8L188.1,268.7L188.1,268.6L185.3,264.7L184.0,262.7L182.5,260.3L180.3,256.7L179.7,255.7L176.9,251.0L176.8,250.7L174.1,246.4L173.1,244.8L171.4,242.0L169.2,238.8L168.6,237.8L165.8,233.7L165.1,232.8L163.0,229.9L160.7,226.8L160.2,226.2L157.5,222.4L156.3,220.8L154.7,218.4L152.4,214.8L151.9,214.0L149.1,208.8L149.1,208.8L146.6,202.9L146.3,202.1L144.5,196.9L143.5,194.1L142.5,190.9L140.8,185.4L140.6,184.9L138.8,178.9L138.0,176.4L136.9,172.9L135.2,167.6L135.0,167.0L133.1,161.0L132.4,158.7L131.3,155.0L129.7,149.0L129.6,148.9L128.2,143.0L126.8,137.7L126.7,137.0L125.4,131.0L124.1,125.2L124.0,125.1L122.9,119.1L121.8,113.1L121.3,110.0L120.8,107.1L119.9,101.1L119.2,95.1L118.5,89.1L118.5,88.9L118.0,83.2L117.5,77.2L117.0,71.2L116.5,65.2L116.2,59.2L115.8,53.2L115.7,50.8L115.6,47.3L115.4,41.3L115.2,35.3L115.2,29.3L112.9,29.3L110.1,29.3L107.4,29.3L104.6,29.3L101.8,29.3L99.0,29.3L96.2,29.3L93.4,29.3L90.7,29.3L87.9,29.3L85.1,29.3L82.3,29.3L79.5,29.3L76.7,29.3L74.0,29.3L71.2,29.3L68.4,29.3L68.4,35.3L68.4,41.3L68.4,47.3L68.4,53.2L68.4,59.2L68.4,65.2L68.4,71.2L68.4,77.2L68.4,83.2L68.4,89.1L68.4,95.1L68.4,101.1L68.4,107.1L68.4,113.1L68.4,119.1L68.4,125.1L68.4,131.0L68.4,137.0L68.4,143.0L68.4,149.0L68.4,155.0L68.4,161.0L68.4,167.0L68.4,172.9L68.4,178.9L68.4,184.9L68.4,190.9L68.4,196.9L68.4,202.9L68.4,208.8L68.4,214.8L68.4,220.8L68.4,226.8L68.4,232.8L68.4,238.8L68.4,244.8L68.4,250.7L68.4,256.7L68.4,262.7L68.4,268.7L68.4,274.7L68.4,280.7L68.4,286.7L68.4,292.6L68.4,298.6L68.4,304.6L68.4,310.6L68.4,316.6L68.4,322.6L68.4,328.5L68.4,334.5L68.4,340.5L68.4,346.5L68.4,352.5L68.4,358.5L68.4,364.5L68.4,370.4L68.4,376.4L68.4,382.4Z" fill="#00ffe3"/>
<path d="M68.4,388.4L71.2,388.4L74.0,388.4L76.7,388.4L79.5,388.4L82.3,388.4L85.1,388.4L87.9,388.4L90.7,388.4L93.4,388.4L96.2,388.4L99.0,388.4L101.8,388.4L104.6,388.4L107.4,388.4L110.1,388.4L112.9,388.4L115.7,388.4L118.5,388.4L121.3,388.4L124.1,388.4L126.8,388.4L129.6,388.4L132.4,388.4L135.2,388.4L138.0,388.4L140.8,388.4L143.5,388.4L146.3,388.4L149.1,388.4L151.9,388.4L154.7,388.4L157.5,388.4L160.2,388.4L163.0,388.4L165.8,388.4L168.6,388.4L171.4,388.4L174.1,388.4L176.9,388.4L179.7,388.4L182.5,388.4L185.3,388.4L188.1,388.4L190.8,388.4L193.6,388.4L196.4,388.4L199.2,388.4L202.0,388.4L204.8,388.4L207.5,388.4L210.3,388.4L213.1,388.4L215.9,388.4L218.7,388.4L221.5,388.4L224.2,388.4L227.0,388.4L229.8,388.4L232.6,388.4L235.4,388.4L238.2,388.4L240.9,388.4L243.7,388.4L246.5,388.4L249.3,388.4L252.1,388.4L254.9,388.4L257.6,388.4L260.4,388.4L263.2,388.4L266.0,388.4L268.8,388.4L271.5,388.4L274.3,388.4L277.1,388.4L279.9,388.4L282.7,388.4L285.5,388.4L288.2,388.4L291.0,388.4L293.8,388.4L296.6,388.4L299.4,388.4L302.2,388.4L304.9,388.4L307.7,388.4L310.5,388.4L313.3,388.4L316.1,388.4L318.9,388.4L321.6,388.4L324.4,388.4L327.2,388.4L330.0,388.4L332.8,388.4L335.6,388.4L338.3,388.4L341.1,388.4L343.9,388.4L344.3,388.4L343.9,388.3L341.1,387.3L338.3,386.3L335.6,385.4L332.8,384.6L330.0,383.8L327.2,383.0L325.1,382.4L324.4,382.2L321.6,381.5L318.9,380.7L316.1,380.0L313.3,379.2L310.5,378.4L307.7,377.6L304.9,376.8L303.6,376.4L302.2,376.0L299.4,375.1L296.6,374.1L293.8,373.1L291.0,372.1L288.2,370.9L287.0,370.4L285.5,369.8L282.7,368.6L279.9,367.4L277.1,366.2L274.3,365.0L273.2,364.5L271.5,363.7L268.8,362.4L266.0,361.1L263.2,359.7L260.7,358.5L260.4,358.4L257.6,356.9L254.9,355.5L252.1,353.9L249.6,352.5L249.3,352.3L246.5,350.6L243.7,348.8L240.9,346.9L240.4,346.5L238.2,344.9L235.4,342.7L232.9,340.5L232.6,340.2L229.8,337.4L227.4,334.5L227.0,334.1L224.2,330.6L222.8,328.5L221.5,326.7L218.7,322.6L218.6,322.6L215.9,318.6L214.6,316.6L213.1,314.5L210.4,310.6L210.3,310.5L207.5,306.8L205.8,304.6L204.8,303.4L202.0,300.2L200.6,298.6L199.2,297.2L196.4,294.4L194.5,292.6L193.6,291.8L190.8,289.2L188.1,286.7L188.1,286.6L185.3,283.8L182.5,280.9L182.3,280.7L179.7,277.6L177.3,274.7L176.9,274.1L174.1,270.2L173.0,268.7L171.4,266.2L168.9,262.7L168.6,262.2L165.8,258.2L164.8,256.7L163.0,254.0L160.8,250.7L160.2,249.8L157.5,245.5L157.0,244.8L154.7,241.2L153.1,238.8L151.9,236.8L149.4,232.8L149.1,232.4L146.3,227.4L146.0,226.8L143.5,221.6L143.2,220.8L140.8,214.9L140.7,214.8L138.7,208.8L138.0,206.5L136.9,202.9L135.2,197.4L135.0,196.9L133.3,190.9L132.4,188.1L131.5,184.9L129.6,178.9L129.6,178.9L127.9,172.9L126.8,169.2L126.2,167.0L124.6,161.0L124.1,158.8L123.1,155.0L121.8,149.0L121.3,146.7L120.5,143.0L119.3,137.0L118.5,132.8L118.2,131.0L117.1,125.1L116.0,119.1L115.7,117.4L115.0,113.1L114.1,107.1L113.4,101.1L112.9,97.2L112.7,95.1L112.2,89.1L111.8,83.2L111.4,77.2L111.0,71.2L110.7,65.2L110.4,59.2L110.1,54.0L110.1,53.2L109.9,47.3L109.7,41.3L109.7,35.3L109.6,29.3L107.4,29.3L104.6,29.3L101.8,29.3L99.0,29.3L96.2,29.3L93.4,29.3L90.7,29.3L87.9,29.3L85.1,29.3L82.3,29.3L79.5,29.3L76.7,29.3L74.0,29.3L71.2,29.3L68.4,29.3L68.4,35.3L68.4,41.3L68.4,47.3L68.4,53.2L68.4,59.2L68.4,65.2L68.4,71.2L68.4,77.2L68.4,83.2L68.4,89.1L68.4,95.1L68.4,101.1L68.4,107.1L68.4,113.1L68.4,119.1L68.4,125.1L68.4,131.0L68.4,137.0L68.4,143.0L68.4,149.0L68.4,155.0L68.4,161.0L68.4,167.0L68.4,172.9L68.4,178.9L68.4,184.9L68.4,190.9L68.4,196.9L68.4,202.9L68.4,208.8L68.4,214.8L68.4,220.8L68.4,226.8L68.4,232.8L68.4,238.8L68.4,244.8L68.4,250.7L68.4,256.7L68.4,262.7L68.4,268.7L68.4,274.7L68.4,280.7L68.4,286.7L68.4,292.6L68.4,298.6L68.4,304.6L68.4,310.6L68.4,316.6L68.4,322.6L68.4,328.5L68.4,334.5L68.4,340.5L68.4,346.5L68.4,352.5L68.4,358.5L68.4,364.5L68.4,370.4L68.4,376.4L68.4,382.4Z" fill="#00ffc6"/>
<path d="M68.4,388.4L71.2,388.4L74.0,388.4L76.7,388.4L79.5,388.4L82.3,388.4L85.1,388.4L87.9,388.4L90.7,388.4L93.4,388.4L96.2,388.4L99.0,388.4L101.8,388.4L104.6,388.4L107.4,388.4L110.1,388.4L112.9,388.4L115.7,388.4L118.5,388.4L121.3,388.4L124.1,388.4L126.8,388.4L129.6,388.4L132.4,388.4L135.2,388.4L138.0,388.4L140.8,388.4L143.5,388.4L146.3,388.4L149.1,388.4L151.9,388.4L154.7,388.4L157.5,388.4L160.2,388.4L163.0,388.4L165.8,388.4L168.6,388.4L171.4,388.4L174.1,388.4L176.9,388.4L179.7,388.4L182.5,388.4L185.3,388.4L188.1,388.4L190.8,388.4L193.6,388.4L196.4,388.4L199.2,388.4L202.0,388.4L204.8,388.4L207.5,388.4L210.3,388.4L213.1,388.4L215.9,388.4L218.7,388.4L221.5,388.4L224.2,388.4L227.0,388.4L229.8,388.4L232.6,388.4L235.4,388.4L238.2,388.4L240.9,388.4L243.7,388.4L246.5,388.4L249.3,388.4L252.1,388.4L254.9,388.4L257.6,388.4L260.4,388.4L263.2,388.4L266.0,388.4L268.8,388.4L271.5,388.4L274.3,388.4L277.1,388.4L279.0,388.4L277.1,387.7L274.3,386.6L271.5,385.4L268.8,384.2L266.0,383.0L264.7,382.4L263.2,381.7L260.4,380.5L257.6,379.1L254.9,377.8L252.2,376.4L252.1,376.4L249.3,374.9L246.5,373.4L243.7,371.8L241.5,370.4L240.9,370.1L238.2,368.3L235.4,366.4L232.9,364.5L232.6,364.2L229.8,361.8L227.0,359.0L226.6,358.5L224.2,355.8L221.6,352.5L221.5,352.2L218.7,348.3L217.5,346.5L215.9,344.0L213.8,340.5L213.1,339.3L210.5,334.5L210.3,334.3L207.5,329.1L207.3,328.5L204.8,324.0L204.0,322.6L202.0,319.3L200.3,316.6L199.2,315.0L196.4,311.1L196.0,310.6L193.6,307.7L191.0,304.6L190.8,304.5L188.1,301.5L185.3,298.6L185.3,298.6L182.5,295.7L179.7,292.8L179.5,292.6L176.9,289.9L174.1,287.0L173.8,286.7L171.4,284.2L168.6,281.4L167.8,280.7L165.8,278.5L163.0,275.3L162.5,274.7L160.2,271.4L158.6,268.7L157.5,266.8L155.2,262.7L154.7,261.8L151.9,256.9L151.8,256.7L149.1,252.0L148.4,250.7L146.3,247.0L145.2,244.8L143.5,241.7L142.1,238.8L140.8,235.9L139.4,232.8L138.0,229.4L136.9,226.8L135.2,222.1L134.7,220.8L132.8,214.8L132.4,213.7L131.0,208.8L129.6,204.1L129.3,202.9L127.6,196.9L126.8,194.2L125.9,190.9L124.3,184.9L124.1,184.2L122.6,178.9L121.3,174.1L121.0,172.9L119.4,167.0L118.5,163.3L117.9,161.0L116.6,155.0L115.7,150.8L115.3,149.0L114.2,143.0L113.1,137.0L112.9,136.1L112.0,131.0L111.0,125.1L110.1,119.9L110.0,119.1L109.1,113.1L108.3,107.1L107.6,101.1L107.4,98.9L107.0,95.1L106.6,89.1L106.2,83.2L105.9,77.2L105.6,71.2L105.3,65.2L105.0,59.2L104.8,53.2L104.6,47.3L104.6,47.2L104.4,41.3L104.4,35.3L104.3,29.3L101.8,29.3L99.0,29.3L96.2,29.3L93.4,29.3L90.7,29.3L87.9,29.3L85.1,29.3L82.3,29.3L79.5,29.3L76.7,29.3L74.0,29.3L71.2,29.3L68.4,29.3L68.4,35.3L68.4,41.3L68.4,47.3L68.4,53.2L68.4,59.2L68.4,65.2L68.4,71.2L68.4,77.2L68.4,83.2L68.4,89.1L68.4,95.1L68.4,101.1L68.4,107.1L68.4,113.1L68.4,119.1L68.4,125.1L68.4,131.0L68.4,137.0L68.4,143.0L68.4,149.0L68.4,155.0L68.4,161.0L68.4,167.0L68.4,172.9L68.4,178.9L68.4,184.9L68.4,190.9L68.4,196.9L68.4,202.9L68.4,208.8L68.4,214.8L68.4,220.8L68.4,226.8L68.4,232.8L68.4,238.8L68.4,244.8L68.4,250.7L68.4,256.7L68.4,262.7L68.4,268.7L68.4,274.7L68.4,280.7L68.4,286.7L68.4,292.6L68.4,298.6L68.4,304.6L68.4,310.6L68.4,316.6L68.4,322.6L68.4,328.5L68.4,334.5L68.4,340.5L68.4,346.5L68.4,352.5L68.4,358.5L68.4,364.5L68.4,370.4L68.4,376.4L68.4,382.4Z" fill="#00ffaa"/>
<path d="M68.4,388.4L71.2,388.4L74.0,388.4L76.7,388.4L79.5,388.4L82.3,388.4L85.1,388.4L87.9,388.4L90.7,388.4L93.4,388.4L96.2,388.4L99.0,388.4L101.8,388.4L104.6,388.4L107.4,388.4L110.1,388.4L112.9,388.4L115.7,388.4L118.5,388.4L121.3,388.4L124.1,388.4L126.8,388.4L129.6,388.4L132.4,388.4L135.2,388.4L138.0,388.4L140.8,388.4L143.5,388.4L146.3,388.4L149.1,388.4L151.9,388.4L154.7,388.4L157.5,388.4L160.2,388.4L163.0,388.4L165.8,388.4L168.6,388.4L171.4,388.4L174.1,388.4L176.9,388.4L179.7,388.4L182.5,388.4L185.3,388.4L188.1,388.4L190.8,388.4L193.6,388.4L196.4,388.4L199.2,388.4L202.0,388.4L204.8,388.4L207.5,388.4L210.3,388.4L213.1,388.4L215.9,388.4L218.7,388.4L221.5,388.4L224.2,388.4L227.0,388.4L229.8,388.4L232.6,388.4L233.0,388.4L232.6,388.2L229.8,386.3L227.0,384.3L224.7,382.4L224.2,382.0L221.5,379.4L218.8,376.4L218.7,376.3L215.9,372.8L214.3,370.4L213.1,368.7L210.5,364.5L210.3,364.1L207.5,359.0L207.3,358.5L204.8,353.4L204.3,352.5L202.0,347.6L201.5,346.5L199.2,341.6L198.7,340.5L196.4,335.5L196.0,334.5L193.6,329.0L193.4,328.5L190.8,323.2L190.5,322.6L188.1,318.6L186.8,316.6L185.3,314.6L182.5,310.9L182.3,310.6L179.7,307.7L177.0,304.6L176.9,304.5L174.1,301.7L171.4,298.9L171.1,298.6L168.6,296.3L165.8,293.8L164.6,292.6L163.0,291.1L160.2,288.2L158.9,286.7L157.5,284.8L154.7,281.1L154.3,280.7L151.9,276.9L150.5,274.7L149.1,272.2L147.3,268.7L146.3,266.8L144.4,262.7L143.5,261.0L141.5,256.7L140.8,255.1L138.8,250.7L138.0,249.0L136.2,244.8L135.2,242.4L133.8,238.8L132.4,235.1L131.6,232.8L129.6,227.0L129.5,226.8L127.7,220.8L126.8,218.0L126.0,214.8L124.3,208.8L124.1,207.8L122.8,202.9L121.3,197.1L121.2,196.9L119.6,190.9L118.5,186.7L118.0,184.9L116.5,178.9L115.7,176.1L114.9,172.9L113.4,167.0L112.9,164.8L112.0,161.0L110.7,155.0L110.1,151.9L109.6,149.0L108.5,143.0L107.5,137.0L107.4,136.4L106.4,131.0L105.5,125.1L104.6,119.5L104.5,119.1L103.7,113.1L102.9,107.1L102.2,101.1L101.8,96.2L101.7,95.1L101.3,89.1L101.0,83.2L100.7,77.2L100.4,71.2L100.1,65.2L99.8,59.2L99.6,53.2L99.5,47.3L99.3,41.3L99.2,35.3L99.2,29.3L99.0,29.3L96.2,29.3L93.4,29.3L90.7,29.3L87.9,29.3L85.1,29.3L82.3,29.3L79.5,29.3L76.7,29.3L74.0,29.3L71.2,29.3L68.4,29.3L68.4,35.3L68.4,41.3L68.4,47.3L68.4,53.2L68.4,59.2L68.4,65.2L68.4,71.2L68.4,77.2L68.4,83.2L68.4,89.1L68.4,95.1L68.4,101.1L68.4,107.1L68.4,113.1L68.4,119.1L68.4,125.1L68.4,131.0L68.4,137.0L68.4,143.0L68.4,149.0L68.4,155.0L68.4,161.0L68.4,167.0L68.4,172.9L68.4,178.9L68.4,184.9L68.4,190.9L68.4,196.9L68.4,202.9L68.4,208.8L68.4,214.8L68.4,220.8L68.4,226.8L68.4,232.8L68.4,238.8L68.4,244.8L68.4,250.7L68.4,256.7L68.4,262.7L68.4,268.7L68.4,274.7L68.4,280.7L68.4,286.7L68.4,292.6L68.4,298.6L68.4,304.6L68.4,310.6L68.4,316.6L68.4,322.6L68.4,328.5L68.4,334.5L68.4,340.5L68.4,346.5L68.4,352.5L68.4,358.5L68.4,364.5L68.4,370.4L68.4,376.4L68.4,382.4Z" fill="#00ff8e"/>
<path d="M68.4,388.4L71.2,388.4L74.0,388.4L76.7,388.4L79.5,388.4L82.3,388.4L85.1,388.4L87.9,388.4L90.7,388.4L93.4,388.4L96.2,388.4L99.0,388.4L101.8,388.4L104.6,388.4L107.4,388.4L110.1,388.4L112.9,388.4L115.7,388.4L118.5,388.4L121.3,388.4L124.1,388.4L126.8,388.4L129.6,388.4L132.4,388.4L135.2,388.4L138.0,388.4L140.8,388.4L143.5,388.4L146.3,388.4L149.1,388.4L151.9,388.4L154.7,388.4L157.5,388.4L160.2,388.4L163.0,388.4L165.8,388.4L168.6,388.4L171.4,388.4L174.1,388.4L176.9,388.4L179.7,388.4L182.5,388.4L185.3,388.4L188.1,388.4L190.8,388.4L193.6,388.4L196.4,388.4L199.2,388.4L200.2,388.4L199.2,385.6L198.3,382.4L196.4,376.4L196.4,376.4L194.5,370.4L193.6,368.0L192.5,364.5L190.8,359.9L190.3,358.5L188.1,352.8L187.9,352.5L185.5,346.5L185.3,345.9L183.3,340.5L182.5,338.5L181.1,334.5L179.7,330.7L179.0,328.5L176.9,324.1L176.2,322.6L174.1,319.5L172.1,316.6L171.4,315.7L168.6,312.5L166.9,310.6L165.8,309.5L163.0,306.7L161.1,304.6L160.2,303.8L157.5,300.7L155.7,298.6L154.7,297.5L151.9,294.1L150.8,292.6L149.1,290.3L146.6,286.7L146.3,286.2L143.5,281.6L143.0,280.7L140.8,276.2L140.0,274.7L138.0,270.0L137.4,268.7L135.2,262.9L135.1,262.7L132.8,256.7L132.4,255.7L130.6,250.7L129.6,248.0L128.5,244.8L126.8,239.8L126.5,238.8L124.7,232.8L124.1,230.7L122.9,226.8L121.3,220.8L121.3,220.8L119.8,214.8L118.5,209.7L118.3,208.8L116.8,202.9L115.7,198.3L115.4,196.9L113.8,190.9L112.9,187.3L112.3,184.9L110.8,178.9L110.1,176.4L109.3,172.9L107.9,167.0L107.4,164.7L106.5,161.0L105.3,155.0L104.6,151.2L104.2,149.0L103.1,143.0L102.1,137.0L101.8,135.0L101.1,131.0L100.2,125.1L99.3,119.1L99.0,117.0L98.5,113.1L97.8,107.1L97.1,101.1L96.6,95.1L96.2,89.1L96.2,89.1L95.9,83.2L95.6,77.2L95.3,71.2L95.1,65.2L94.8,59.2L94.6,53.2L94.4,47.3L94.3,41.3L94.2,35.3L94.2,29.3L93.4,29.3L90.7,29.3L87.9,29.3L85.1,29.3L82.3,29.3L79.5,29.3L76.7,29.3L74.0,29.3L71.2,29.3L68.4,29.3L68.4,35.3L68.4,41.3L68.4,47.3L68.4,53.2L68.4,59.2L68.4,65.2L68.4,71.2L68.4,77.2L68.4,83.2L68.4,89.1L68.4,95.1L68.4,101.1L68.4,107.1L68.4,113.1L68.4,119.1L68.4,125.1L68.4,131.0L68.4,137.0L68.4,143.0L68.4,149.0L68.4,155.0L68.4,161.0L68.4,167.0L68.4,172.9L68.4,178.9L68.4,184.9L68.4,190.9L68.4,196.9L68.4,202.9L68.4,208.8L68.4,214.8L68.4,220.8L68.4,226.8L68.4,232.8L68.4,238.8L68.4,244.8L68.4,250.7L68.4,256.7L68.4,262.7L68.4,268.7L68.4,274.7L68.4,280.7L68.4,286.7L68.4,292.6L68.4,298.6L68.4,304.6L68.4,310.6L68.4,316.6L68.4,322.6L68.4,328.5L68.4,334.5L68.4,340.5L68.4,346.5L68.4,352.5L68.4,358.5L68.4,364.5L68.4,370.4L68.4,376.4L68.4,382.4Z" fill="#00ff71"/>
<path d="M68.4,388.4L71.2,388.4L74.0,388.4L76.7,388.4L79.5,388.4L82.3,388.4L85.1,388.4L87.9,388.4L90.7,388.4L93.4,388.4L96.2,388.4L99.0,388.4L101.8,388.4L104.6,388.4L107.4,388.4L110.1,388.4L112.9,388.4L115.7,388.4L118.5,388.4L121.3,388.4L124.1,388.4L126.8,388.4L129.6,388.4L132.4,388.4L135.2,388.4L138.0,388.4L140.8,388.4L143.5,388.4L146.3,388.4L149.1,388.4L151.9,388.4L154.7,388.4L157.5,388.4L160.2,388.4L163.0,388.4L165.8,388.4L168.6,388.4L171.4,388.4L174.1,388.4L174.2,388.4L174.1,386.7L174.0,382.4L173.3,376.4L172.2,370.4L171.4,366.9L170.8,364.5L169.2,358.5L168.6,356.1L167.6,352.5L165.8,346.5L165.8,346.4L164.0,340.5L163.0,337.1L162.3,334.5L160.6,328.5L160.2,327.8L158.0,322.6L157.5,321.7L154.7,317.2L154.3,316.6L151.9,313.3L150.1,310.6L149.1,309.3L146.3,305.2L146.0,304.6L143.5,301.0L142.1,298.6L140.8,296.4L138.7,292.6L138.0,291.3L135.7,286.7L135.2,285.6L133.0,280.7L132.4,279.1L130.8,274.7L129.6,271.4L128.8,268.7L126.9,262.7L126.8,262.5L125.1,256.7L124.1,253.4L123.3,250.7L121.5,244.8L121.3,243.8L119.9,238.8L118.5,233.6L118.3,232.8L116.8,226.8L115.7,222.5L115.3,220.8L113.9,214.8L112.9,210.5L112.6,208.8L111.2,202.9L110.1,198.4L109.8,196.9L108.3,190.9L107.4,187.0L106.8,184.9L105.4,178.9L104.6,175.8L103.9,172.9L102.5,167.0L101.8,163.8L101.2,161.0L100.0,155.0L99.0,149.7L98.9,149.0L97.9,143.0L96.9,137.0L96.2,132.8L95.9,131.0L95.0,125.1L94.2,119.1L93.4,113.4L93.4,113.1L92.7,107.1L92.1,101.1L91.6,95.1L91.3,89.1L90.9,83.2L90.7,77.5L90.6,77.2L90.4,71.2L90.1,65.2L89.8,59.2L89.6,53.2L89.5,47.3L89.3,41.3L89.2,35.3L89.2,29.3L87.9,29.3L85.1,29.3L82.3,29.3L79.5,29.3L76.7,29.3L74.0,29.3L71.2,29.3L68.4,29.3L68.4,35.3L68.4,41.3L68.4,47.3L68.4,53.2L68.4,59.2L68.4,65.2L68.4,71.2L68.4,77.2L68.4,83.2L68.4,89.1L68.4,95.1L68.4,101.1L68.4,107.1L68.4,113.1L68.4,119.1L68.4,125.1L68.4,131.0L68.4,137.0L68.4,143.0L68.4,149.0L68.4,155.0L68.4,161.0L68.4,167.0L68.4,172.9L68.4,178.9L68.4,184.9L68.4,190.9L68.4,196.9L68.4,202.9L68.4,208.8L68.4,214.8L68.4,220.8L68.4,226.8L68.4,232.8L68.4,238.8L68.4,244.8L68.4,250.7L68.4,256.7L68.4,262.7L68.4,268.7L68.4,274.7L68.4,280.7L68.4,286.7L68.4,292.6L68.4,298.6L68.4,304.6L68.4,310.6L68.4,316.6L68.4,322.6L68.4,328.5L68.4,334.5L68.4,340.5L68.4,346.5L68.4,352.5L68.4,358.5L68.4,364.5L68.4,370.4L68.4,376.4L68.4,382.4Z" fill="#00ff55"/>
<path d="M68.4,388.4L71.2,388.4L74.0,388.4L76.7,388.4L79.5,388.4L82.3,388.4L85.1,388.4L87.9,388.4L90.7,388.4L93.4,388.4L96.2,388.4L99.0,388.4L101.8,388.4L104.6,388.4L107.4,388.4L110.1,388.4L112.9,388.4L115.7,388.4L118.5,388.4L121.3,388.4L124.1,388.4L126.8,388.4L129.6,388.4L132.4,388.4L135.2,388.4L138.0,388.4L140.8,388.4L143.5,388.4L146.3,388.4L148.3,388.4L148.2,382.4L147.9,376.4L147.5,370.4L146.9,364.5L146.3,359.3L146.2,358.5L145.5,352.5L144.6,346.5L143.7,340.5L143.5,339.4L142.8,334.5L141.8,328.5L140.8,324.4L140.3,322.6L138.2,316.6L138.0,316.2L135.7,310.6L135.2,309.6L133.1,304.6L132.4,303.0L130.6,298.6L129.6,296.1L128.3,292.6L126.8,288.5L126.2,286.7L124.3,280.7L124.1,279.8L122.6,274.7L121.3,269.7L121.0,268.7L119.5,262.7L118.5,258.7L118.0,256.7L116.5,250.7L115.7,247.6L115.0,244.8L113.6,238.8L112.9,236.2L112.2,232.8L110.8,226.8L110.1,223.7L109.5,220.8L108.3,214.8L107.4,210.4L107.1,208.8L105.7,202.9L104.6,197.8L104.4,196.9L102.9,190.9L101.8,186.4L101.4,184.9L99.9,178.9L99.0,175.1L98.5,172.9L97.1,167.0L96.2,162.8L95.8,161.0L94.7,155.0L93.6,149.0L93.4,148.0L92.6,143.0L91.7,137.0L90.7,131.0L90.7,130.5L89.9,125.1L89.0,119.1L88.3,113.1L87.9,109.0L87.7,107.1L87.1,101.1L86.7,95.1L86.3,89.1L86.0,83.2L85.7,77.2L85.4,71.2L85.1,65.2L85.1,64.8L84.9,59.2L84.6,53.2L84.5,47.3L84.3,41.3L84.2,35.3L84.2,29.3L82.3,29.3L79.5,29.3L76.7,29.3L74.0,29.3L71.2,29.3L68.4,29.3L68.4,35.3L68.4,41.3L68.4,47.3L68.4,53.2L68.4,59.2L68.4,65.2L68.4,71.2L68.4,77.2L68.4,83.2L68.4,89.1L68.4,95.1L68.4,101.1L68.4,107.1L68.4,113.1L68.4,119.1L68.4,125.1L68.4,131.0L68.4,137.0L68.4,143.0L68.4,149.0L68.4,155.0L68.4,161.0L68.4,167.0L68.4,172.9L68.4,178.9L68.4,184.9L68.4,190.9L68.4,196.9L68.4,202.9L68.4,208.8L68.4,214.8L68.4,220.8L68.4,226.8L68.4,232.8L68.4,238.8L68.4,244.8L68.4,250.7L68.4,256.7L68.4,262.7L68.4,268.7L68.4,274.7L68.4,280.7L68.4,286.7L68.4,292.6L68.4,298.6L68.4,304.6L68.4,310.6L68.4,316.6L68.4,322.6L68.4,328.5L68.4,334.5L68.4,340.5L68.4,346.5L68.4,352.5L68.4,358.5L68.4,364.5L68.4,370.4L68.4,376.4L68.4,382.4Z" fill="#00ff39"/>
<path d="M68.4,388.4L71.2,388.4L74.0,388.4L76.7,388.4L79.5,388.4L82.3,388.4L85.1,388.4L87.9,388.4L90.7,388.4L93.4,388.4L96.2,388.4L99.0,388.4L101.8,388.4L104.6,388.4L107.4,388.4L110.1,388.4L112.9,388.4L115.7,388.4L118.5,388.4L121.3,388.4L124.1,388.4L126.8,388.4L129.6,388.4L132.4,388.4L132.6,388.4L132.6,382.4L132.4,377.2L132.4,376.4L132.1,370.4L131.8,364.5L131.4,358.5L130.9,352.5L130.3,346.5L129.7,340.5L129.6,340.2L129.0,334.5L128.3,328.5L127.3,322.6L126.8,320.4L126.0,316.6L124.5,310.6L124.1,309.2L122.8,304.6L121.3,299.2L121.1,298.6L119.4,292.6L118.5,289.5L117.9,286.7L116.5,280.7L115.7,276.9L115.3,274.7L114.0,268.7L112.9,263.8L112.7,262.7L111.3,256.7L110.1,251.6L110.0,250.7L108.7,244.8L107.4,238.8L107.4,238.6L106.2,232.8L105.1,226.8L104.6,224.0L104.0,220.8L102.8,214.8L101.8,209.7L101.6,208.8L100.3,202.9L99.0,197.3L98.9,196.9L97.4,190.9L96.2,186.1L95.9,184.9L94.5,178.9L93.4,174.5L93.1,172.9L91.7,167.0L90.7,161.9L90.5,161.0L89.3,155.0L88.2,149.0L87.9,147.0L87.2,143.0L86.3,137.0L85.4,131.0L85.1,129.1L84.5,125.1L83.8,119.1L83.1,113.1L82.5,107.1L82.3,104.6L82.0,101.1L81.6,95.1L81.2,89.1L80.9,83.2L80.6,77.2L80.3,71.2L80.1,65.2L79.8,59.2L79.6,53.2L79.5,50.4L79.4,47.3L79.3,41.3L79.2,35.3L79.2,29.3L76.7,29.3L74.0,29.3L71.2,29.3L68.4,29.3L68.4,35.3L68.4,41.3L68.4,47.3L68.4,53.2L68.4,59.2L68.4,65.2L68.4,71.2L68.4,77.2L68.4,83.2L68.4,89.1L68.4,95.1L68.4,101.1L68.4,107.1L68.4,113.1L68.4,119.1L68.4,125.1L68.4,131.0L68.4,137.0L68.4,143.0L68.4,149.0L68.4,155.0L68.4,161.0L68.4,167.0L68.4,172.9L68.4,178.9L68.4,184.9L68.4,190.9L68.4,196.9L68.4,202.9L68.4,208.8L68.4,214.8L68.4,220.8L68.4,226.8L68.4,232.8L68.4,238.8L68.4,244.8L68.4,250.7L68.4,256.7L68.4,262.7L68.4,268.7L68.4,274.7L68.4,280.7L68.4,286.7L68.4,292.6L68.4,298.6L68.4,304.6L68.4,310.6L68.4,316.6L68.4,322.6L68.4,328.5L68.4,334.5L68.4,340.5L68.4,346.5L68.4,352.5L68.4,358.5L68.4,364.5L68.4,370.4L68.4,376.4L68.4,382.4Z" fill="#00ff1c"/>
<path d="M68.4,388.4L71.2,388.4L74.0,388.4L76.7,388.4L79.5,388.4L82.3,388.4L85.1,388.4L87.9,388.4L90.7,388.4L93.4,388.4L96.2,388.4L99.0,388.4L101.8,388.4L104.6,388.4L107.4,388.4L110.1,388.4L112.9,388.4L115.7,388.4L118.5,388.4L121.3,388.4L122.6,388.4L122.5,382.4L122.4,376.4L122.2,370.4L121.9,364.5L121.4,358.5L121.3,356.3L121.1,352.5L120.6,346.5L120.1,340.5L119.4,334.5L118.5,328.7L118.5,328.5L117.5,322.6L116.3,316.6L115.7,313.8L115.2,310.6L114.2,304.6L113.1,298.6L112.9,297.4L112.2,292.6L111.2,286.7L110.1,281.1L110.1,280.7L108.9,274.7L107.6,268.7L107.4,267.5L106.4,262.7L105.2,256.7L104.6,253.9L104.0,250.7L102.9,244.8L101.9,238.8L101.8,238.3L100.8,232.8L99.8,226.8L99.0,222.6L98.7,220.8L97.5,214.8L96.2,208.9L96.2,208.8L94.9,202.9L93.4,196.9L93.4,196.9L92.0,190.9L90.7,185.3L90.6,184.9L89.1,178.9L87.9,173.7L87.7,172.9L86.3,167.0L85.1,161.8L84.9,161.0L83.6,155.0L82.5,149.0L82.3,148.1L81.5,143.0L80.5,137.0L79.7,131.0L79.5,129.6L79.0,125.1L78.3,119.1L77.7,113.1L77.2,107.1L76.7,101.3L76.7,101.1L76.3,95.1L76.0,89.1L75.7,83.2L75.4,77.2L75.1,71.2L74.9,65.2L74.6,59.2L74.4,53.2L74.2,47.3L74.1,41.3L74.0,35.3L74.0,31.1L73.9,29.3L71.2,29.3L68.4,29.3L68.4,35.3L68.4,41.3L68.4,47.3L68.4,53.2L68.4,59.2L68.4,65.2L68.4,71.2L68.4,77.2L68.4,83.2L68.4,89.1L68.4,95.1L68.4,101.1L68.4,107.1L68.4,113.1L68.4,119.1L68.4,125.1L68.4,131.0L68.4,137.0L68.4,143.0L68.4,149.0L68.4,155.0L68.4,161.0L68.4,167.0L68.4,172.9L68.4,178.9L68.4,184.9L68.4,190.9L68.4,196.9L68.4,202.9L68.4,208.8L68.4,214.8L68.4,220.8L68.4,226.8L68.4,232.8L68.4,238.8L68.4,244.8L68.4,250.7L68.4,256.7L68.4,262.7L68.4,268.7L68.4,274.7L68.4,280.7L68.4,286.7L68.4,292.6L68.4,298.6L68.4,304.6L68.4,310.6L68.4,316.6L68.4,322.6L68.4,328.5L68.4,334.5L68.4,340.5L68.4,346.5L68.4,352.5L68.4,358.5L68.4,364.5L68.4,370.4L68.4,376.4L68.4,382.4Z" fill="#00ff00"/>
<path d="M68.4,388.4L71.2,388.4L74.0,388.4L76.7,388.4L79.5,388.4L82.3,388.4L85.1,388.4L87.9,388.4L90.7,388.4L93.4,388.4L96.2,388.4L99.0,388.4L101.8,388.4L104.6,388.4L107.4,388.4L110.1,388.4L112.9,388.4L115.7,388.4L118.3,388.4L118.2,382.4L117.9,376.4L117.6,370.4L117.2,364.5L116.7,358.5L116.0,352.5L115.7,350.1L115.3,346.5L114.5,340.5L113.6,334.5L112.9,330.5L112.6,328.5L111.7,322.6L110.7,316.6L110.1,313.0L109.8,310.6L108.8,304.6L107.8,298.6L107.4,295.9L106.8,292.6L105.8,286.7L104.6,280.7L104.6,280.5L103.5,274.7L102.3,268.7L101.8,266.1L101.2,262.7L100.1,256.7L99.0,250.8L99.0,250.7L98.0,244.8L96.9,238.8L96.2,235.0L95.8,232.8L94.7,226.8L93.5,220.8L93.4,220.4L92.3,214.8L91.0,208.8L90.7,207.1L89.7,202.9L88.3,196.9L87.9,195.0L86.9,190.9L85.4,184.9L85.1,183.7L83.8,178.9L82.3,173.2L82.2,172.9L80.6,167.0L79.5,162.8L79.0,161.0L77.6,155.0L76.7,150.6L76.4,149.0L75.5,143.0L74.7,137.0L74.0,131.6L73.9,131.0L73.2,125.1L72.6,119.1L72.1,113.1L71.6,107.1L71.2,101.1L71.2,100.1L70.9,95.1L70.6,89.1L70.3,83.2L70.0,77.2L69.7,71.2L69.5,65.2L69.3,59.2L69.1,53.2L68.9,47.3L68.7,41.3L68.6,35.3L68.6,29.3L68.4,29.3L68.4,35.3L68.4,41.3L68.4,47.3L68.4,53.2L68.4,59.2L68.4,65.2L68.4,71.2L68.4,77.2L68.4,83.2L68.4,89.1L68.4,95.1L68.4,101.1L68.4,107.1L68.4,113.1L68.4,119.1L68.4,125.1L68.4,131.0L68.4,137.0L68.4,143.0L68.4,149.0L68.4,155.0L68.4,161.0L68.4,167.0L68.4,172.9L68.4,178.9L68.4,184.9L68.4,190.9L68.4,196.9L68.4,202.9L68.4,208.8L68.4,214.8L68.4,220.8L68.4,226.8L68.4,232.8L68.4,238.8L68.4,244.8L68.4,250.7L68.4,256.7L68.4,262.7L68.4,268.7L68.4,274.7L68.4,280.7L68.4,286.7L68.4,292.6L68.4,298.6L68.4,304.6L68.4,310.6L68.4,316.6L68.4,322.6L68.4,328.5L68.4,334.5L68.4,340.5L68.4,346.5L68.4,352.5L68.4,358.5L68.4,364.5L68.4,370.4L68.4,376.4L68.4,382.4Z" fill="#00ff00"/>
<path d="M68.4,388.4L71.2,388.4L74.0,388.4L76.7,388.4L79.5,388.4L82.3,388.4L85.1,388.4L87.9,388.4L90.7,388.4L93.4,388.4L96.2,388.4L99.0,388.4L101.8,388.4L104.6,388.4L107.4,388.4L110.1,388.4L112.9,388.4L115.7,388.4L115.9,388.4L115.7,385.4L115.5,382.4L115.1,376.4L114.6,370.4L114.0,364.5L113.2,358.5L112.9,356.2L112.4,352.5L111.6,346.5L110.6,340.5L110.1,337.8L109.6,334.5L108.6,328.5L107.6,322.6L107.4,321.3L106.6,316.6L105.6,310.6L104.6,304.8L104.5,304.6L103.5,298.6L102.4,292.6L101.8,289.2L101.3,286.7L100.2,280.7L99.0,274.7L99.0,274.7L97.9,268.7L96.7,262.7L96.2,260.0L95.6,256.7L94.5,250.7L93.4,245.0L93.4,244.8L92.3,238.8L91.2,232.8L90.7,230.3L90.0,226.8L88.8,220.8L87.9,216.4L87.6,214.8L86.3,208.8L85.1,203.6L84.9,202.9L83.5,196.9L82.3,192.3L82.0,190.9L80.3,184.9L79.5,182.2L78.6,178.9L76.7,172.9L76.7,172.9L74.9,167.0L74.0,163.7L73.1,161.0L71.6,155.0L71.2,153.1L70.4,149.0L69.5,143.0L68.7,137.0L68.4,134.3L68.4,137.0L68.4,143.0L68.4,149.0L68.4,155.0L68.4,161.0L68.4,167.0L68.4,172.9L68.4,178.9L68.4,184.9L68.4,190.9L68.4,196.9L68.4,202.9L68.4,208.8L68.4,214.8L68.4,220.8L68.4,226.8L68.4,232.8L68.4,238.8L68.4,244.8L68.4,250.7L68.4,256.7L68.4,262.7L68.4,268.7L68.4,274.7L68.4,280.7L68.4,286.7L68.4,292.6L68.4,298.6L68.4,304.6L68.4,310.6L68.4,316.6L68.4,322.6L68.4,328.5L68.4,334.5L68.4,340.5L68.4,346.5L68.4,352.5L68.4,358.5L68.4,364.5L68.4,370.4L68.4,376.4L68.4,382.4Z" fill="#00ff00"/>
<path d="M68.4,388.4L71.2,388.4L74.0,388.4L76.7,388.4L79.5,388.4L82.3,388.4L85.1,388.4L87.9,388.4L90.7,388.4L93.4,388.4L96.2,388.4L99.0,388.4L101.8,388.4L104.6,388.4L107.4,388.4L110.1,388.4L112.9,388.4L113.9,388.4L113.3,382.4L112.9,378.5L112.7,376.4L112.0,370.4L111.3,364.5L110.4,358.5L110.1,357.0L109.4,352.5L108.4,346.5L107.4,340.8L107.3,340.5L106.2,334.5L105.2,328.5L104.6,325.3L104.1,322.6L103.1,316.6L102.0,310.6L101.8,309.5L100.9,304.6L99.8,298.6L99.0,294.5L98.6,292.6L97.5,286.7L96.3,280.7L96.2,280.5L95.1,274.7L93.8,268.7L93.4,266.7L92.7,262.7L91.5,256.7L90.7,252.5L90.3,250.7L89.1,244.8L88.0,238.8L87.9,238.4L86.8,232.8L85.6,226.8L85.1,224.6L84.3,220.8L83.1,214.8L82.3,211.3L81.8,208.8L80.4,202.9L79.5,199.5L78.8,196.9L77.2,190.9L76.7,189.4L75.4,184.9L74.0,180.5L73.4,178.9L71.4,172.9L71.2,172.4L69.3,167.0L68.4,164.4L68.4,167.0L68.4,172.9L68.4,178.9L68.4,184.9L68.4,190.9L68.4,196.9L68.4,202.9L68.4,208.8L68.4,214.8L68.4,220.8L68.4,226.8L68.4,232.8L68.4,238.8L68.4,244.8L68.4,250.7L68.4,256.7L68.4,262.7L68.4,268.7L68.4,274.7L68.4,280.7L68.4,286.7L68.4,292.6L68.4,298.6L68.4,304.6L68.4,310.6L68.4,316.6L68.4,322.6L68.4,328.5L68.4,334.5L68.4,340.5L68.4,346.5L68.4,352.5L68.4,358.5L68.4,364.5L68.4,370.4L68.4,376.4L68.4,382.4Z" fill="#00ff00"/>
<path d="M68.4,388.4L71.2,388.4L74.0,388.4L76.7,388.4L79.5,388.4L82.3,388.4L85.1,388.4L87.9,388.4L90.7,388.4L93.4,388.4L96.2,388.4L99.0,388.4L101.8,388.4L104.6,388.4L107.4,388.4L110.1,388.4L112.0,388.4L111.3,382.4L110.5,376.4L110.1,373.6L109.7,370.4L108.7,364.5L107.7,358.5L107.4,356.5L106.6,352.5L105.5,346.5L104.6,341.9L104.3,340.5L103.2,334.5L102.0,328.5L101.8,327.2L101.0,322.6L99.9,316.6L99.0,312.1L98.7,310.6L97.6,304.6L96.4,298.6L96.2,297.9L95.2,292.6L93.9,286.7L93.4,284.6L92.6,280.7L91.3,274.7L90.7,271.6L90.0,268.7L88.8,262.7L87.9,258.4L87.5,256.7L86.3,250.7L85.1,245.1L85.0,244.8L83.8,238.8L82.5,232.8L82.3,231.7L81.3,226.8L80.1,220.8L79.5,218.3L78.8,214.8L77.5,208.8L76.7,205.9L76.0,202.9L74.4,196.9L74.0,195.5L72.6,190.9L71.2,186.7L70.6,184.9L68.4,179.0L68.4,184.9L68.4,190.9L68.4,196.9L68.4,202.9L68.4,208.8L68.4,214.8L68.4,220.8L68.4,226.8L68.4,232.8L68.4,238.8L68.4,244.8L68.4,250.7L68.4,256.7L68.4,262.7L68.4,268.7L68.4,274.7L68.4,280.7L68.4,286.7L68.4,292.6L68.4,298.6L68.4,304.6L68.4,310.6L68.4,316.6L68.4,322.6L68.4,328.5L68.4,334.5L68.4,340.5L68.4,346.5L68.4,352.5L68.4,358.5L68.4,364.5L68.4,370.4L68.4,376.4L68.4,382.4Z" fill="#00ff00"/>
<path d="M68.4,388.4L71.2,388.4L74.0,388.4L76.7,388.4L79.5,388.4L82.3,388.4L85.1,388.4L87.9,388.4L90.7,388.4L93.4,388.4L96.2,388.4L99.0,388.4L101.8,388.4L104.6,388.4L107.4,388.4L110.1,388.4L109.3,382.4L108.4,376.4L107.4,370.4L107.4,370.3L106.3,364.5L105.1,358.5L104.6,355.9L103.9,352.5L102.6,346.5L101.8,342.4L101.4,340.5L100.3,334.5L99.1,328.5L99.0,328.0L98.0,322.6L96.8,316.6L96.2,313.6L95.6,310.6L94.4,304.6L93.4,300.2L93.1,298.6L91.8,292.6L90.7,287.7L90.4,286.7L89.1,280.7L87.9,275.4L87.7,274.7L86.3,268.7L85.1,263.2L85.0,262.7L83.6,256.7L82.3,250.9L82.3,250.7L81.0,244.8L79.7,238.8L79.5,238.0L78.4,232.8L77.2,226.8L76.7,224.6L76.0,220.8L74.7,214.8L74.0,211.8L73.3,208.8L71.8,202.9L71.2,200.8L70.0,196.9L68.4,191.9L68.4,196.9L68.4,202.9L68.4,208.8L68.4,214.8L68.4,220.8L68.4,226.8L68.4,232.8L68.4,238.8L68.4,244.8L68.4,250.7L68.4,256.7L68.4,262.7L68.4,268.7L68.4,274.7L68.4,280.7L68.4,286.7L68.4,292.6L68.4,298.6L68.4,304.6L68.4,310.6L68.4,316.6L68.4,322.6L68.4,328.5L68.4,334.5L68.4,340.5L68.4,346.5L68.4,352.5L68.4,358.5L68.4,364.5L68.4,370.4L68.4,376.4L68.4,382.4Z" fill="#00ff00"/>
<path d="M68.4,388.4L71.2,388.4L74.0,388.4L76.7,388.4L79.5,388.4L82.3,388.4L85.1,388.4L87.9,388.4L90.7,388.4L93.4,388.4L96.2,388.4L99.0,388.4L101.8,388.4L104.6,388.4L107.4,388.4L108.2,388.4L107.4,382.9L107.3,382.4L106.2,376.4L105.0,370.4L104.6,368.4L103.7,364.5L102.4,358.5L101.8,355.6L101.1,352.5L99.9,346.5L99.0,342.3L98.6,340.5L97.5,334.5L96.3,328.5L96.2,328.3L95.1,322.6L93.9,316.6L93.4,314.6L92.6,310.6L91.3,304.6L90.7,302.0L89.9,298.6L88.6,292.6L87.9,289.7L87.2,286.7L85.7,280.7L85.1,278.1L84.2,274.7L82.7,268.7L82.3,267.3L81.2,262.7L79.7,256.7L79.5,255.9L78.3,250.7L77.0,244.8L76.7,243.8L75.7,238.8L74.4,232.8L74.0,230.8L73.2,226.8L71.9,220.8L71.2,217.5L70.6,214.8L69.2,208.8L68.4,205.8L68.4,208.8L68.4,214.8L68.4,220.8L68.4,226.8L68.4,232.8L68.4,238.8L68.4,244.8L68.4,250.7L68.4,256.7L68.4,262.7L68.4,268.7L68.4,274.7L68.4,280.7L68.4,286.7L68.4,292.6L68.4,298.6L68.4,304.6L68.4,310.6L68.4,316.6L68.4,322.6L68.4,328.5L68.4,334.5L68.4,340.5L68.4,346.5L68.4,352.5L68.4,358.5L68.4,364.5L68.4,370.4L68.4,376.4L68.4,382.4Z" fill="#00ff00"/>
<path d="M68.4,388.4L71.2,388.4L74.0,388.4L76.7,388.4L79.5,388.4L82.3,388.4L85.1,388.4L87.9,388.4L90.7,388.4L93.4,388.4L96.2,388.4L99.0,388.4L101.8,388.4L104.6,388.4L106.2,388.4L105.1,382.4L104.6,380.0L103.8,376.4L102.4,370.4L101.8,367.7L101.0,364.5L99.7,358.5L99.0,355.2L98.4,352.5L97.2,346.5L96.2,342.0L95.9,340.5L94.7,334.5L93.5,328.5L93.4,328.4L92.2,322.6L90.9,316.6L90.7,315.5L89.6,310.6L88.3,304.6L87.9,302.6L87.0,298.6L85.6,292.6L85.1,290.6L84.0,286.7L82.4,280.7L82.3,280.5L80.6,274.7L79.5,270.9L78.9,268.7L77.3,262.7L76.7,260.6L75.7,256.7L74.3,250.7L74.0,249.4L72.9,244.8L71.6,238.8L71.2,236.7L70.4,232.8L69.2,226.8L68.4,223.2L68.4,226.8L68.4,232.8L68.4,238.8L68.4,244.8L68.4,250.7L68.4,256.7L68.4,262.7L68.4,268.7L68.4,274.7L68.4,280.7L68.4,286.7L68.4,292.6L68.4,298.6L68.4,304.6L68.4,310.6L68.4,316.6L68.4,322.6L68.4,328.5L68.4,334.5L68.4,340.5L68.4,346.5L68.4,352.5L68.4,358.5L68.4,364.5L68.4,370.4L68.4,376.4L68.4,382.4Z" fill="#00ff00"/>
<path d="M68.4,388.4L71.2,388.4L74.0,388.4L76.7,388.4L79.5,388.4L82.3,388.4L85.1,388.4L87.9,388.4L90.7,388.4L93.4,388.4L96.2,388.4L99.0,388.4L101.8,388.4L104.0,388.4L102.6,382.4L101.8,379.0L101.2,376.4L99.8,370.4L99.0,367.2L98.4,364.5L97.1,358.5L96.2,354.7L95.8,352.5L94.5,346.5L93.4,341.6L93.2,340.5L91.9,334.5L90.7,328.5L90.7,328.5L89.5,322.6L88.2,316.6L87.9,315.0L87.0,310.6L85.7,304.6L85.1,302.1L84.2,298.6L82.6,292.6L82.3,291.5L80.8,286.7L79.5,282.7L78.8,280.7L76.8,274.7L76.7,274.4L75.0,268.7L74.0,265.2L73.2,262.7L71.7,256.7L71.2,254.8L70.2,250.7L68.9,244.8L68.4,242.5L68.4,244.8L68.4,250.7L68.4,256.7L68.4,262.7L68.4,268.7L68.4,274.7L68.4,280.7L68.4,286.7L68.4,292.6L68.4,298.6L68.4,304.6L68.4,310.6L68.4,316.6L68.4,322.6L68.4,328.5L68.4,334.5L68.4,340.5L68.4,346.5L68.4,352.5L68.4,358.5L68.4,364.5L68.4,370.4L68.4,376.4L68.4,382.4Z" fill="#33ff00"/>
<path d="M68.4,388.4L71.2,388.4L74.0,388.4L76.7,388.4L79.5,388.4L82.3,388.4L85.1,388.4L87.9,388.4L90.7,388.4L93.4,388.4L96.2,388.4L99.0,388.4L101.5,388.4L100.0,382.4L99.0,378.4L98.5,376.4L97.1,370.4L96.2,366.6L95.7,364.5L94.4,358.5L93.4,354.0L93.1,352.5L91.8,346.5L90.7,341.2L90.5,340.5L89.3,334.5L88.1,328.5L87.9,327.2L87.0,322.6L85.8,316.6L85.1,313.1L84.5,310.6L83.1,304.6L82.3,301.7L81.4,298.6L79.5,292.9L79.4,292.6L77.3,286.7L76.7,285.2L75.0,280.7L74.0,277.7L72.9,274.7L71.2,269.6L70.9,268.7L69.2,262.7L68.4,259.8L68.4,262.7L68.4,268.7L68.4,274.7L68.4,280.7L68.4,286.7L68.4,292.6L68.4,298.6L68.4,304.6L68.4,310.6L68.4,316.6L68.4,322.6L68.4,328.5L68.4,334.5L68.4,340.5L68.4,346.5L68.4,352.5L68.4,358.5L68.4,364.5L68.4,370.4L68.4,376.4L68.4,382.4Z" fill="#66ff00"/>
<path d="M68.4,388.4L71.2,388.4L74.0,388.4L76.7,388.4L79.5,388.4L82.3,388.4L85.1,388.4L87.9,388.4L90.7,388.4L93.4,388.4L96.2,388.4L98.8,388.4L97.3,382.4L96.2,377.9L95.9,376.4L94.5,370.4L93.4,365.8L93.1,364.5L91.8,358.5L90.7,353.2L90.5,352.5L89.3,346.5L88.1,340.5L87.9,339.4L87.0,334.5L85.9,328.5L85.1,324.4L84.7,322.6L83.5,316.6L82.3,311.7L82.0,310.6L80.2,304.6L79.5,302.4L78.2,298.6L76.7,294.8L75.9,292.6L74.0,287.9L73.4,286.7L71.2,281.0L71.0,280.7L68.8,274.7L68.4,273.5L68.4,274.7L68.4,280.7L68.4,286.7L68.4,292.6L68.4,298.6L68.4,304.6L68.4,310.6L68.4,316.6L68.4,322.6L68.4,328.5L68.4,334.5L68.4,340.5L68.4,346.5L68.4,352.5L68.4,358.5L68.4,364.5L68.4,370.4L68.4,376.4L68.4,382.4Z" fill="#99ff00"/>
<path d="M68.4,388.4L71.2,388.4L74.0,388.4L76.7,388.4L79.5,388.4L82.3,388.4L85.1,388.4L87.9,388.4L90.7,388.4L93.4,388.4L96.1,388.4L94.7,382.4L93.4,377.1L93.3,376.4L91.9,370.4L90.7,364.8L90.6,364.5L89.4,358.5L88.1,352.5L87.9,351.3L87.0,346.5L85.9,340.5L85.1,336.1L84.8,334.5L83.7,328.5L82.4,322.6L82.3,322.0L80.9,316.6L79.5,311.8L79.1,310.6L77.0,304.6L76.7,303.9L74.6,298.6L74.0,297.0L72.0,292.6L71.2,290.6L69.4,286.7L68.4,284.2L68.4,286.7L68.4,292.6L68.4,298.6L68.4,304.6L68.4,310.6L68.4,316.6L68.4,322.6L68.4,328.5L68.4,334.5L68.4,340.5L68.4,346.5L68.4,352.5L68.4,358.5L68.4,364.5L68.4,370.4L68.4,376.4L68.4,382.4Z" fill="#ccff00"/>
<path d="M68.4,388.4L71.2,388.4L74.0,388.4L76.7,388.4L79.5,388.4L82.3,388.4L85.1,388.4L87.9,388.4L90.7,388.4L93.4,388.4L93.5,388.4L93.4,388.1L92.1,382.4L90.8,376.4L90.7,375.9L89.5,370.4L88.2,364.5L87.9,362.8L87.1,358.5L85.9,352.5L85.1,347.8L84.8,346.5L83.7,340.5L82.6,334.5L82.3,333.1L81.3,328.5L79.8,322.6L79.5,321.5L78.0,316.6L76.7,312.9L75.9,310.6L74.0,305.8L73.5,304.6L71.2,299.5L70.8,298.6L68.4,293.6L68.4,298.6L68.4,304.6L68.4,310.6L68.4,316.6L68.4,322.6L68.4,328.5L68.4,334.5L68.4,340.5L68.4,346.5L68.4,352.5L68.4,358.5L68.4,364.5L68.4,370.4L68.4,376.4L68.4,382.4Z" fill="#ffff00"/>
<path d="M68.4,388.4L71.2,388.4L74.0,388.4L76.7,388.4L79.5,388.4L82.3,388.4L85.1,388.4L87.9,388.4L90.7,388.4L91.1,388.4L90.7,386.7L89.7,382.4L88.4,376.4L87.9,374.0L87.2,370.4L86.0,364.5L85.1,359.5L84.9,358.5L83.8,352.5L82.7,346.5L82.3,344.6L81.4,340.5L80.1,334.5L79.5,332.1L78.6,328.5L76.8,322.6L76.7,322.3L74.8,316.6L74.0,314.5L72.3,310.6L71.2,308.0L69.5,304.6L68.4,302.3L68.4,304.6L68.4,310.6L68.4,316.6L68.4,322.6L68.4,328.5L68.4,334.5L68.4,340.5L68.4,346.5L68.4,352.5L68.4,358.5L68.4,364.5L68.4,370.4L68.4,376.4L68.4,382.4Z" fill="#ffe600"/>
<path d="M68.4,388.4L71.2,388.4L74.0,388.4L76.7,388.4L79.5,388.4L82.3,388.4L85.1,388.4L87.9,388.4L88.6,388.4L87.9,385.0L87.3,382.4L86.1,376.4L85.1,371.2L85.0,370.4L83.8,364.5L82.7,358.5L82.3,356.2L81.5,352.5L80.3,346.5L79.5,343.1L78.9,340.5L77.3,334.5L76.7,332.4L75.6,328.5L74.0,323.6L73.6,322.6L71.2,316.6L71.2,316.6L68.4,310.8L68.4,316.6L68.4,322.6L68.4,328.5L68.4,334.5L68.4,340.5L68.4,346.5L68.4,352.5L68.4,358.5L68.4,364.5L68.4,370.4L68.4,376.4L68.4,382.4Z" fill="#ffcc00"/>
<path d="M68.4,388.4L71.2,388.4L74.0,388.4L76.7,388.4L79.5,388.4L82.3,388.4L85.1,388.4L86.2,388.4L85.1,382.8L85.0,382.4L83.9,376.4L82.7,370.4L82.3,368.1L81.6,364.5L80.4,358.5L79.5,354.4L79.1,352.5L77.7,346.5L76.7,342.9L76.1,340.5L74.4,334.5L74.0,333.3L72.3,328.5L71.2,325.4L70.0,322.6L68.4,319.2L68.4,322.6L68.4,328.5L68.4,334.5L68.4,340.5L68.4,346.5L68.4,352.5L68.4,358.5L68.4,364.5L68.4,370.4L68.4,376.4L68.4,382.4Z" fill="#ffb200"/>
<path d="M68.4,388.4L71.2,388.4L74.0,388.4L76.7,388.4L79.5,388.4L82.3,388.4L83.9,388.4L82.7,382.4L82.3,380.1L81.6,376.4L80.4,370.4L79.5,365.9L79.2,364.5L77.9,358.5L76.7,353.6L76.5,352.5L74.9,346.5L74.0,343.2L73.1,340.5L71.2,334.7L71.1,334.5L68.7,328.5L68.4,327.9L68.4,328.5L68.4,334.5L68.4,340.5L68.4,346.5L68.4,352.5L68.4,358.5L68.4,364.5L68.4,370.4L68.4,376.4L68.4,382.4Z" fill="#ff9900"/>
<path d="M68.4,388.4L71.2,388.4L74.0,388.4L76.7,388.4L79.5,388.4L81.6,388.4L80.4,382.4L79.5,377.7L79.3,376.4L78.1,370.4L76.7,364.5L76.7,364.5L75.3,358.5L74.0,353.3L73.7,352.5L71.9,346.5L71.2,344.1L69.9,340.5L68.4,336.8L68.4,340.5L68.4,346.5L68.4,352.5L68.4,358.5L68.4,364.5L68.4,370.4L68.4,376.4L68.4,382.4Z" fill="#ff8000"/>
<path d="M68.4,388.4L71.2,388.4L74.0,388.4L76.7,388.4L79.3,388.4L78.1,382.4L76.9,376.4L76.7,375.6L75.6,370.4L74.2,364.5L74.0,363.5L72.6,358.5L71.2,353.5L70.8,352.5L68.7,346.5L68.4,345.6L68.4,346.5L68.4,352.5L68.4,358.5L68.4,364.5L68.4,370.4L68.4,376.4L68.4,382.4Z" fill="#ff6600"/>
<path d="M68.4,388.4L71.2,388.4L74.0,388.4L76.7,388.4L77.0,388.4L76.7,386.9L75.9,382.4L74.6,376.4L74.0,373.8L73.2,370.4L71.6,364.5L71.2,363.0L69.8,358.5L68.4,354.3L68.4,358.5L68.4,364.5L68.4,370.4L68.4,376.4L68.4,382.4Z" fill="#ff4c00"/>
<path d="M68.4,388.4L71.2,388.4L74.0,388.4L74.8,388.4L74.0,384.2L73.6,382.4L72.2,376.4L71.2,372.4L70.6,370.4L68.9,364.5L68.4,363.0L68.4,364.5L68.4,370.4L68.4,376.4L68.4,382.4Z" fill="#ff3300"/>
<path d="M68.4,388.4L71.2,388.4L72.7,388.4L71.3,382.4L71.2,381.9L69.8,376.4L68.4,371.5L68.4,376.4L68.4,382.4Z" fill="#ff1a00"/>
<path d="M68.4,388.4L70.5,388.4L69.0,382.4L68.4,380.0L68.4,382.4Z" fill="#ff0000"/>
</g>
<clipPath id="rl"><path clip-rule="evenodd" d="M0,0H550V463H0Z M275.5,200.9 L306.4,200.9 L306.4,226.9 L275.5,226.9Z"/></clipPath>
<path d="M458.0,294.0L455.2,293.5L452.4,292.9L451.2,292.6L449.7,292.3L446.9,291.7L444.1,291.0L441.3,290.4L438.5,289.7L435.7,289.1L433.0,288.4L430.2,287.7L427.4,287.0L426.0,286.7L424.6,286.3L421.8,285.5L419.0,284.8L416.3,284.0L413.5,283.3L410.7,282.5L407.9,281.8L405.1,281.0L403.8,280.7L402.3,280.2L399.6,279.4L396.8,278.5L394.0,277.7L391.2,276.8L388.4,275.9L385.6,275.0L384.7,274.7L382.9,274.0L380.1,272.9L377.3,271.8L374.5,270.7L371.7,269.6L369.6,268.7L368.9,268.4L366.2,267.0L363.4,265.7L360.6,264.3L357.8,262.8L357.6,262.7L355.0,261.3L352.3,259.7L349.5,258.1L347.2,256.7L346.7,256.4L343.9,254.6L341.1,252.6L338.6,250.7L338.3,250.6L335.6,248.3L332.8,246.1L331.1,244.8L330.0,243.8L327.2,241.5L324.4,239.2L323.9,238.8L321.6,236.9L318.9,234.6L316.6,232.8L316.1,232.4L313.3,230.2L310.5,228.1L308.8,226.8L307.7,226.0L304.9,223.9L302.2,221.8L300.8,220.8L299.4,219.8L296.6,217.7L293.8,215.6L292.7,214.8L291.0,213.5L288.2,211.3L285.5,209.1L285.2,208.8L282.7,206.7L279.9,204.2L278.4,202.9L277.1,201.6L274.3,199.0L272.2,196.9L271.5,196.2L268.8,193.4L266.3,190.9L266.0,190.6L263.2,187.8L260.4,184.9L260.4,184.9L257.6,182.1L254.9,179.3L254.5,178.9L252.1,176.4L249.3,173.5L248.7,172.9L246.5,170.6L243.7,167.7L243.0,167.0L240.9,164.7L238.2,161.6L237.6,161.0L235.4,158.3L232.6,155.0L232.6,155.0L229.8,151.5L227.9,149.0L227.0,147.8L224.2,143.9L223.6,143.0L221.5,139.8L219.7,137.0L218.7,135.5L215.9,131.0L215.9,131.0L213.1,126.3L212.4,125.1L210.3,121.5L209.0,119.1L207.5,116.5L205.8,113.1L204.8,111.1L202.8,107.1L202.0,105.4L200.0,101.1L199.2,99.2L197.5,95.1L196.4,92.4L195.1,89.1L193.6,85.1L192.9,83.2L190.8,77.4L190.8,77.2L188.7,71.2L188.1,69.2L186.8,65.2L185.3,60.6L184.8,59.2L183.0,53.2L182.5,51.6L181.2,47.3L179.7,42.1L179.5,41.3L177.9,35.3L176.9,31.6L176.4,29.3" fill="none" stroke="#e0202c" stroke-width="1.1" stroke-linejoin="round" clip-path="url(#rl)"/>
<g><rect x="464.5" y="38.90" width="26.2" height="8.52" fill="#ff0000"/><rect x="464.5" y="47.02" width="26.2" height="8.52" fill="#ff1a00"/><rect x="464.5" y="55.14" width="26.2" height="8.52" fill="#ff3300"/><rect x="464.5" y="63.26" width="26.2" height="8.52" fill="#ff4c00"/><rect x="464.5" y="71.39" width="26.2" height="8.52" fill="#ff6600"/><rect x="464.5" y="79.51" width="26.2" height="8.52" fill="#ff8000"/><rect x="464.5" y="87.63" width="26.2" height="8.52" fill="#ff9900"/><rect x="464.5" y="95.75" width="26.2" height="8.52" fill="#ffb200"/><rect x="464.5" y="103.87" width="26.2" height="8.52" fill="#ffcc00"/><rect x="464.5" y="111.99" width="26.2" height="8.52" fill="#ffe600"/><rect x="464.5" y="120.11" width="26.2" height="8.52" fill="#ffff00"/><rect x="464.5" y="128.24" width="26.2" height="8.52" fill="#ccff00"/><rect x="464.5" y="136.36" width="26.2" height="8.52" fill="#99ff00"/><rect x="464.5" y="144.48" width="26.2" height="8.52" fill="#66ff00"/><rect x="464.5" y="152.60" width="26.2" height="8.52" fill="#33ff00"/><rect x="464.5" y="160.72" width="26.2" height="8.52" fill="#00ff00"/><rect x="464.5" y="168.84" width="26.2" height="8.52" fill="#00ff00"/><rect x="464.5" y="176.96" width="26.2" height="8.52" fill="#00ff00"/><rect x="464.5" y="185.09" width="26.2" height="8.52" fill="#00ff00"/><rect x="464.5" y="193.21" width="26.2" height="8.52" fill="#00ff00"/><rect x="464.5" y="201.33" width="26.2" height="8.52" fill="#00ff00"/><rect x="464.5" y="209.45" width="26.2" height="8.52" fill="#00ff00"/><rect x="464.5" y="217.57" width="26.2" height="8.52" fill="#00ff00"/><rect x="464.5" y="225.69" width="26.2" height="8.52" fill="#00ff1c"/><rect x="464.5" y="233.81" width="26.2" height="8.52" fill="#00ff39"/><rect x="464.5" y="241.94" width="26.2" height="8.52" fill="#00ff55"/><rect x="464.5" y="250.06" width="26.2" height="8.52" fill="#00ff71"/><rect x="464.5" y="258.18" width="26.2" height="8.52" fill="#00ff8e"/><rect x="464.5" y="266.30" width="26.2" height="8.52" fill="#00ffaa"/><rect x="464.5" y="274.42" width="26.2" height="8.52" fill="#00ffc6"/><rect x="464.5" y="282.54" width="26.2" height="8.52" fill="#00ffe3"/><rect x="464.5" y="290.66" width="26.2" height="8.52" fill="#00ffff"/><rect x="464.5" y="298.79" width="26.2" height="8.52" fill="#00e6ff"/><rect x="464.5" y="306.91" width="26.2" height="8.52" fill="#00ccff"/><rect x="464.5" y="315.03" width="26.2" height="8.52" fill="#00b2ff"/><rect x="464.5" y="323.15" width="26.2" height="8.52" fill="#0099ff"/><rect x="464.5" y="331.27" width="26.2" height="8.52" fill="#0080ff"/><rect x="464.5" y="339.39" width="26.2" height="8.52" fill="#0066ff"/><rect x="464.5" y="347.51" width="26.2" height="8.52" fill="#004cff"/><rect x="464.5" y="355.64" width="26.2" height="8.52" fill="#0033ff"/><rect x="464.5" y="363.76" width="26.2" height="8.52" fill="#001aff"/><rect x="464.5" y="371.88" width="26.2" height="8.52" fill="#0000ff"/></g>
<rect x="464.5" y="38.9" width="26.2" height="341.1" fill="none" stroke="#000" stroke-width="1"/>
<path d="M490.7,38.9 H497.8 M490.7,87.6 H497.8 M490.7,136.4 H497.8 M490.7,185.1 H497.8 M490.7,233.8 H497.8 M490.7,282.5 H497.8 M490.7,331.3 H497.8 M490.7,380.0 H497.8" stroke="#000" stroke-width="1" fill="none"/>
<rect x="68.4" y="29.3" width="389.6" height="359.1" fill="none" stroke="#000" stroke-width="1.5"/>
<path d="M124.1,388.4 v-7 M179.7,388.4 v-7 M235.4,388.4 v-7 M291.0,388.4 v-7 M346.7,388.4 v-7 M402.3,388.4 v-7 M96.2,388.4 v-4 M151.9,388.4 v-4 M207.5,388.4 v-4 M263.2,388.4 v-4 M318.9,388.4 v-4 M374.5,388.4 v-4 M430.2,388.4 v-4 M68.4,328.5 h7 M68.4,268.7 h7 M68.4,208.8 h7 M68.4,149.0 h7 M68.4,89.1 h7 M68.4,358.5 h4 M68.4,298.6 h4 M68.4,238.8 h4 M68.4,178.9 h4 M68.4,119.1 h4 M68.4,59.2 h4" stroke="#000" stroke-width="1.5" fill="none"/>
<g font-family="'Liberation Serif','Times New Roman',serif" font-size="24px" fill="#000">
<text x="507" y="47.2">5.2</text>
<text x="507" y="95.9">4.6</text>
<text x="507" y="144.7">3.9</text>
<text x="507" y="193.4">3.3</text>
<text x="507" y="242.1">2.6</text>
<text x="507" y="290.8">2.0</text>
<text x="507" y="339.6">1.3</text>
<text x="507" y="388.3">0.65</text>
<text x="68.4" y="415.4" text-anchor="middle">1</text>
<text x="124.1" y="415.4" text-anchor="middle">2</text>
<text x="179.7" y="415.4" text-anchor="middle">3</text>
<text x="235.4" y="415.4" text-anchor="middle">4</text>
<text x="291.0" y="415.4" text-anchor="middle">5</text>
<text x="346.7" y="415.4" text-anchor="middle">6</text>
<text x="402.3" y="415.4" text-anchor="middle">7</text>
<text x="458.0" y="415.4" text-anchor="middle">8</text>
<text x="59.5" y="396.3" text-anchor="end">30</text>
<text x="59.5" y="336.4" text-anchor="end">35</text>
<text x="59.5" y="276.6" text-anchor="end">40</text>
<text x="59.5" y="216.8" text-anchor="end">45</text>
<text x="59.5" y="156.9" text-anchor="end">50</text>
<text x="59.5" y="97.0" text-anchor="end">55</text>
<text x="59.5" y="37.2" text-anchor="end">60</text>
<text x="249.2" y="20.7" id="ttl" font-size="24.25px">Bank stability safety factor Fs</text>
<text x="160.3" y="454.2" id="xl" font-size="24.1px">River water level/(m)</text>
<text transform="translate(23,307.6) rotate(-90)" id="yl" font-size="24.15px">Slope inclination/(°)</text>
<text x="277.5" y="222.2" id="lab">1.3</text>
</g>
</svg>
</body></html>
